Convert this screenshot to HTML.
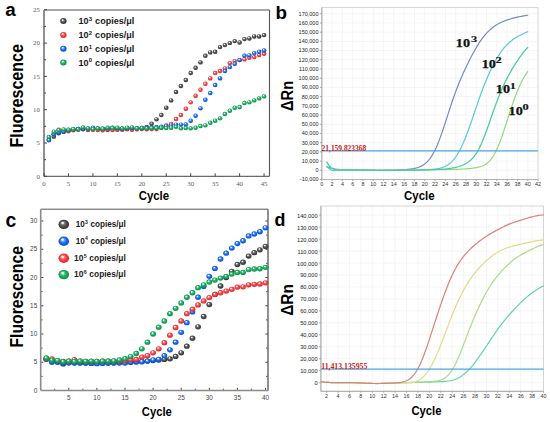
<!DOCTYPE html>
<html><head><meta charset="utf-8"><style>
html,body{margin:0;padding:0;background:#fff;width:550px;height:422px;overflow:hidden}
svg{display:block}
</style></head><body>
<svg width="550" height="422" viewBox="0 0 550 422">
<rect width="550" height="422" fill="#fff"/>
<defs>
<radialGradient id="gk" cx="0.5" cy="0.5" r="0.55" fx="0.36" fy="0.3"><stop offset="0" stop-color="#ffffff"/><stop offset="0.13" stop-color="#ffffff" stop-opacity="0.95"/><stop offset="0.32" stop-color="#7a7a7a"/><stop offset="0.62" stop-color="#4a4a4a"/><stop offset="1" stop-color="#2c2c2c"/></radialGradient>
<radialGradient id="gr" cx="0.5" cy="0.5" r="0.55" fx="0.36" fy="0.3"><stop offset="0" stop-color="#ffffff"/><stop offset="0.13" stop-color="#ffffff" stop-opacity="0.95"/><stop offset="0.32" stop-color="#ff7478"/><stop offset="0.62" stop-color="#f4383c"/><stop offset="1" stop-color="#d42228"/></radialGradient>
<radialGradient id="gb" cx="0.5" cy="0.5" r="0.55" fx="0.36" fy="0.3"><stop offset="0" stop-color="#ffffff"/><stop offset="0.13" stop-color="#ffffff" stop-opacity="0.95"/><stop offset="0.32" stop-color="#5a9cff"/><stop offset="0.62" stop-color="#0f62ea"/><stop offset="1" stop-color="#0a52d0"/></radialGradient>
<radialGradient id="gg" cx="0.5" cy="0.5" r="0.55" fx="0.36" fy="0.3"><stop offset="0" stop-color="#ffffff"/><stop offset="0.13" stop-color="#ffffff" stop-opacity="0.95"/><stop offset="0.32" stop-color="#52cc88"/><stop offset="0.62" stop-color="#12a658"/><stop offset="1" stop-color="#0a8846"/></radialGradient>
</defs>
<line x1="44" y1="10" x2="269.5" y2="10" stroke="#8a8a8a" stroke-width="1.5" />
<line x1="44" y1="10" x2="44" y2="176.3" stroke="#8a8a8a" stroke-width="1.9" />
<line x1="269.5" y1="10" x2="269.5" y2="176.3" stroke="#5a5a5a" stroke-width="1.15" />
<line x1="44" y1="176.3" x2="269.5" y2="176.3" stroke="#6a6a6a" stroke-width="1.3" />
<line x1="44" y1="176.3" x2="44" y2="173.3" stroke="#444" stroke-width="1" />
<line x1="68.45" y1="176.3" x2="68.45" y2="173.3" stroke="#444" stroke-width="1" />
<line x1="92.9" y1="176.3" x2="92.9" y2="173.3" stroke="#444" stroke-width="1" />
<line x1="117.35" y1="176.3" x2="117.35" y2="173.3" stroke="#444" stroke-width="1" />
<line x1="141.8" y1="176.3" x2="141.8" y2="173.3" stroke="#444" stroke-width="1" />
<line x1="166.25" y1="176.3" x2="166.25" y2="173.3" stroke="#444" stroke-width="1" />
<line x1="190.7" y1="176.3" x2="190.7" y2="173.3" stroke="#444" stroke-width="1" />
<line x1="215.15" y1="176.3" x2="215.15" y2="173.3" stroke="#444" stroke-width="1" />
<line x1="239.6" y1="176.3" x2="239.6" y2="173.3" stroke="#444" stroke-width="1" />
<line x1="264.05" y1="176.3" x2="264.05" y2="173.3" stroke="#444" stroke-width="1" />
<line x1="44" y1="176.3" x2="47" y2="176.3" stroke="#444" stroke-width="1" />
<line x1="44" y1="159.65" x2="46" y2="159.65" stroke="#444" stroke-width="1" />
<line x1="44" y1="143" x2="47" y2="143" stroke="#444" stroke-width="1" />
<line x1="44" y1="126.35" x2="46" y2="126.35" stroke="#444" stroke-width="1" />
<line x1="44" y1="109.7" x2="47" y2="109.7" stroke="#444" stroke-width="1" />
<line x1="44" y1="93.05" x2="46" y2="93.05" stroke="#444" stroke-width="1" />
<line x1="44" y1="76.4" x2="47" y2="76.4" stroke="#444" stroke-width="1" />
<line x1="44" y1="59.75" x2="46" y2="59.75" stroke="#444" stroke-width="1" />
<line x1="44" y1="43.1" x2="47" y2="43.1" stroke="#444" stroke-width="1" />
<line x1="44" y1="26.45" x2="46" y2="26.45" stroke="#444" stroke-width="1" />
<line x1="44" y1="9.8" x2="47" y2="9.8" stroke="#444" stroke-width="1" />
<text x="39.8" y="178.6" font-family="Liberation Serif" font-size="6.8" fill="#5a5a5a" text-anchor="end" >0</text>
<text x="39.8" y="145.3" font-family="Liberation Serif" font-size="6.8" fill="#5a5a5a" text-anchor="end" >5</text>
<text x="39.8" y="112" font-family="Liberation Serif" font-size="6.8" fill="#5a5a5a" text-anchor="end" >10</text>
<text x="39.8" y="78.7" font-family="Liberation Serif" font-size="6.8" fill="#5a5a5a" text-anchor="end" >15</text>
<text x="39.8" y="45.4" font-family="Liberation Serif" font-size="6.8" fill="#5a5a5a" text-anchor="end" >20</text>
<text x="39.8" y="12.1" font-family="Liberation Serif" font-size="6.8" fill="#5a5a5a" text-anchor="end" >25</text>
<text x="44" y="185.6" font-family="Liberation Serif" font-size="6.8" fill="#5a5a5a" text-anchor="middle" >0</text>
<text x="68.45" y="185.6" font-family="Liberation Serif" font-size="6.8" fill="#5a5a5a" text-anchor="middle" >5</text>
<text x="92.9" y="185.6" font-family="Liberation Serif" font-size="6.8" fill="#5a5a5a" text-anchor="middle" >10</text>
<text x="117.35" y="185.6" font-family="Liberation Serif" font-size="6.8" fill="#5a5a5a" text-anchor="middle" >15</text>
<text x="141.8" y="185.6" font-family="Liberation Serif" font-size="6.8" fill="#5a5a5a" text-anchor="middle" >20</text>
<text x="166.25" y="185.6" font-family="Liberation Serif" font-size="6.8" fill="#5a5a5a" text-anchor="middle" >25</text>
<text x="190.7" y="185.6" font-family="Liberation Serif" font-size="6.8" fill="#5a5a5a" text-anchor="middle" >30</text>
<text x="215.15" y="185.6" font-family="Liberation Serif" font-size="6.8" fill="#5a5a5a" text-anchor="middle" >35</text>
<text x="239.6" y="185.6" font-family="Liberation Serif" font-size="6.8" fill="#5a5a5a" text-anchor="middle" >40</text>
<text x="264.05" y="185.6" font-family="Liberation Serif" font-size="6.8" fill="#5a5a5a" text-anchor="middle" >45</text>
<ellipse cx="48.89" cy="139.67" rx="2.3" ry="2.2" fill="url(#gk)"/>
<ellipse cx="53.78" cy="136.67" rx="2.3" ry="2.2" fill="url(#gk)"/>
<ellipse cx="58.67" cy="133.34" rx="2.3" ry="2.2" fill="url(#gk)"/>
<ellipse cx="63.56" cy="131.68" rx="2.3" ry="2.2" fill="url(#gk)"/>
<ellipse cx="68.45" cy="130.68" rx="2.3" ry="2.2" fill="url(#gk)"/>
<ellipse cx="73.34" cy="129.68" rx="2.3" ry="2.2" fill="url(#gk)"/>
<ellipse cx="78.23" cy="129.01" rx="2.3" ry="2.2" fill="url(#gk)"/>
<ellipse cx="83.12" cy="128.68" rx="2.3" ry="2.2" fill="url(#gk)"/>
<ellipse cx="88.01" cy="129.01" rx="2.3" ry="2.2" fill="url(#gk)"/>
<ellipse cx="92.9" cy="129.35" rx="2.3" ry="2.2" fill="url(#gk)"/>
<ellipse cx="97.79" cy="129.01" rx="2.3" ry="2.2" fill="url(#gk)"/>
<ellipse cx="102.68" cy="129.35" rx="2.3" ry="2.2" fill="url(#gk)"/>
<ellipse cx="107.57" cy="129.68" rx="2.3" ry="2.2" fill="url(#gk)"/>
<ellipse cx="112.46" cy="129.01" rx="2.3" ry="2.2" fill="url(#gk)"/>
<ellipse cx="117.35" cy="129.35" rx="2.3" ry="2.2" fill="url(#gk)"/>
<ellipse cx="122.24" cy="129.01" rx="2.3" ry="2.2" fill="url(#gk)"/>
<ellipse cx="127.13" cy="128.68" rx="2.3" ry="2.2" fill="url(#gk)"/>
<ellipse cx="132.02" cy="129.01" rx="2.3" ry="2.2" fill="url(#gk)"/>
<ellipse cx="136.91" cy="128.35" rx="2.3" ry="2.2" fill="url(#gk)"/>
<ellipse cx="141.8" cy="128.02" rx="2.3" ry="2.2" fill="url(#gk)"/>
<ellipse cx="146.69" cy="127.02" rx="2.3" ry="2.2" fill="url(#gk)"/>
<ellipse cx="151.58" cy="123.69" rx="2.3" ry="2.2" fill="url(#gk)"/>
<ellipse cx="156.47" cy="119.36" rx="2.3" ry="2.2" fill="url(#gk)"/>
<ellipse cx="161.36" cy="115.03" rx="2.3" ry="2.2" fill="url(#gk)"/>
<ellipse cx="166.25" cy="107.7" rx="2.3" ry="2.2" fill="url(#gk)"/>
<ellipse cx="171.14" cy="100.38" rx="2.3" ry="2.2" fill="url(#gk)"/>
<ellipse cx="176.03" cy="91.98" rx="2.3" ry="2.2" fill="url(#gk)"/>
<ellipse cx="180.92" cy="85.99" rx="2.3" ry="2.2" fill="url(#gk)"/>
<ellipse cx="185.81" cy="79.93" rx="2.3" ry="2.2" fill="url(#gk)"/>
<ellipse cx="190.7" cy="73.07" rx="2.3" ry="2.2" fill="url(#gk)"/>
<ellipse cx="195.59" cy="67.74" rx="2.3" ry="2.2" fill="url(#gk)"/>
<ellipse cx="200.48" cy="62.41" rx="2.3" ry="2.2" fill="url(#gk)"/>
<ellipse cx="205.37" cy="55.75" rx="2.3" ry="2.2" fill="url(#gk)"/>
<ellipse cx="210.26" cy="52.42" rx="2.3" ry="2.2" fill="url(#gk)"/>
<ellipse cx="215.15" cy="51.76" rx="2.3" ry="2.2" fill="url(#gk)"/>
<ellipse cx="220.04" cy="47.1" rx="2.3" ry="2.2" fill="url(#gk)"/>
<ellipse cx="224.93" cy="45.1" rx="2.3" ry="2.2" fill="url(#gk)"/>
<ellipse cx="229.82" cy="43.1" rx="2.3" ry="2.2" fill="url(#gk)"/>
<ellipse cx="234.71" cy="41.1" rx="2.3" ry="2.2" fill="url(#gk)"/>
<ellipse cx="239.6" cy="42.43" rx="2.3" ry="2.2" fill="url(#gk)"/>
<ellipse cx="244.49" cy="39.1" rx="2.3" ry="2.2" fill="url(#gk)"/>
<ellipse cx="249.38" cy="38.44" rx="2.3" ry="2.2" fill="url(#gk)"/>
<ellipse cx="254.27" cy="36.44" rx="2.3" ry="2.2" fill="url(#gk)"/>
<ellipse cx="259.16" cy="36.44" rx="2.3" ry="2.2" fill="url(#gk)"/>
<ellipse cx="264.05" cy="35.11" rx="2.3" ry="2.2" fill="url(#gk)"/>
<ellipse cx="48.89" cy="139" rx="2.3" ry="2.2" fill="url(#gr)"/>
<ellipse cx="53.78" cy="134.34" rx="2.3" ry="2.2" fill="url(#gr)"/>
<ellipse cx="58.67" cy="129.68" rx="2.3" ry="2.2" fill="url(#gr)"/>
<ellipse cx="63.56" cy="130.35" rx="2.3" ry="2.2" fill="url(#gr)"/>
<ellipse cx="68.45" cy="131.35" rx="2.3" ry="2.2" fill="url(#gr)"/>
<ellipse cx="73.34" cy="130.35" rx="2.3" ry="2.2" fill="url(#gr)"/>
<ellipse cx="78.23" cy="129.68" rx="2.3" ry="2.2" fill="url(#gr)"/>
<ellipse cx="83.12" cy="129.35" rx="2.3" ry="2.2" fill="url(#gr)"/>
<ellipse cx="88.01" cy="130.01" rx="2.3" ry="2.2" fill="url(#gr)"/>
<ellipse cx="92.9" cy="129.68" rx="2.3" ry="2.2" fill="url(#gr)"/>
<ellipse cx="97.79" cy="130.01" rx="2.3" ry="2.2" fill="url(#gr)"/>
<ellipse cx="102.68" cy="130.35" rx="2.3" ry="2.2" fill="url(#gr)"/>
<ellipse cx="107.57" cy="129.68" rx="2.3" ry="2.2" fill="url(#gr)"/>
<ellipse cx="112.46" cy="130.01" rx="2.3" ry="2.2" fill="url(#gr)"/>
<ellipse cx="117.35" cy="129.68" rx="2.3" ry="2.2" fill="url(#gr)"/>
<ellipse cx="122.24" cy="129.68" rx="2.3" ry="2.2" fill="url(#gr)"/>
<ellipse cx="127.13" cy="129.35" rx="2.3" ry="2.2" fill="url(#gr)"/>
<ellipse cx="132.02" cy="129.68" rx="2.3" ry="2.2" fill="url(#gr)"/>
<ellipse cx="136.91" cy="129.35" rx="2.3" ry="2.2" fill="url(#gr)"/>
<ellipse cx="141.8" cy="129.01" rx="2.3" ry="2.2" fill="url(#gr)"/>
<ellipse cx="146.69" cy="129.35" rx="2.3" ry="2.2" fill="url(#gr)"/>
<ellipse cx="151.58" cy="129.01" rx="2.3" ry="2.2" fill="url(#gr)"/>
<ellipse cx="156.47" cy="129.01" rx="2.3" ry="2.2" fill="url(#gr)"/>
<ellipse cx="161.36" cy="127.68" rx="2.3" ry="2.2" fill="url(#gr)"/>
<ellipse cx="166.25" cy="125.35" rx="2.3" ry="2.2" fill="url(#gr)"/>
<ellipse cx="171.14" cy="123.89" rx="2.3" ry="2.2" fill="url(#gr)"/>
<ellipse cx="176.03" cy="119.02" rx="2.3" ry="2.2" fill="url(#gr)"/>
<ellipse cx="180.92" cy="115.03" rx="2.3" ry="2.2" fill="url(#gr)"/>
<ellipse cx="185.81" cy="108.7" rx="2.3" ry="2.2" fill="url(#gr)"/>
<ellipse cx="190.7" cy="102.37" rx="2.3" ry="2.2" fill="url(#gr)"/>
<ellipse cx="195.59" cy="95.71" rx="2.3" ry="2.2" fill="url(#gr)"/>
<ellipse cx="200.48" cy="89.72" rx="2.3" ry="2.2" fill="url(#gr)"/>
<ellipse cx="205.37" cy="83.73" rx="2.3" ry="2.2" fill="url(#gr)"/>
<ellipse cx="210.26" cy="78.4" rx="2.3" ry="2.2" fill="url(#gr)"/>
<ellipse cx="215.15" cy="73.07" rx="2.3" ry="2.2" fill="url(#gr)"/>
<ellipse cx="220.04" cy="71.07" rx="2.3" ry="2.2" fill="url(#gr)"/>
<ellipse cx="224.93" cy="68.41" rx="2.3" ry="2.2" fill="url(#gr)"/>
<ellipse cx="229.82" cy="63.08" rx="2.3" ry="2.2" fill="url(#gr)"/>
<ellipse cx="234.71" cy="61.08" rx="2.3" ry="2.2" fill="url(#gr)"/>
<ellipse cx="239.6" cy="60.08" rx="2.3" ry="2.2" fill="url(#gr)"/>
<ellipse cx="244.49" cy="59.42" rx="2.3" ry="2.2" fill="url(#gr)"/>
<ellipse cx="249.38" cy="57.75" rx="2.3" ry="2.2" fill="url(#gr)"/>
<ellipse cx="254.27" cy="57.09" rx="2.3" ry="2.2" fill="url(#gr)"/>
<ellipse cx="259.16" cy="55.09" rx="2.3" ry="2.2" fill="url(#gr)"/>
<ellipse cx="264.05" cy="53.76" rx="2.3" ry="2.2" fill="url(#gr)"/>
<ellipse cx="48.89" cy="140.34" rx="2.3" ry="2.2" fill="url(#gb)"/>
<ellipse cx="53.78" cy="134.34" rx="2.3" ry="2.2" fill="url(#gb)"/>
<ellipse cx="58.67" cy="132.34" rx="2.3" ry="2.2" fill="url(#gb)"/>
<ellipse cx="63.56" cy="131.68" rx="2.3" ry="2.2" fill="url(#gb)"/>
<ellipse cx="68.45" cy="130.01" rx="2.3" ry="2.2" fill="url(#gb)"/>
<ellipse cx="73.34" cy="129.35" rx="2.3" ry="2.2" fill="url(#gb)"/>
<ellipse cx="78.23" cy="129.01" rx="2.3" ry="2.2" fill="url(#gb)"/>
<ellipse cx="83.12" cy="129.01" rx="2.3" ry="2.2" fill="url(#gb)"/>
<ellipse cx="88.01" cy="128.68" rx="2.3" ry="2.2" fill="url(#gb)"/>
<ellipse cx="92.9" cy="127.68" rx="2.3" ry="2.2" fill="url(#gb)"/>
<ellipse cx="97.79" cy="128.35" rx="2.3" ry="2.2" fill="url(#gb)"/>
<ellipse cx="102.68" cy="128.68" rx="2.3" ry="2.2" fill="url(#gb)"/>
<ellipse cx="107.57" cy="128.35" rx="2.3" ry="2.2" fill="url(#gb)"/>
<ellipse cx="112.46" cy="127.68" rx="2.3" ry="2.2" fill="url(#gb)"/>
<ellipse cx="117.35" cy="128.35" rx="2.3" ry="2.2" fill="url(#gb)"/>
<ellipse cx="122.24" cy="128.68" rx="2.3" ry="2.2" fill="url(#gb)"/>
<ellipse cx="127.13" cy="128.35" rx="2.3" ry="2.2" fill="url(#gb)"/>
<ellipse cx="132.02" cy="128.02" rx="2.3" ry="2.2" fill="url(#gb)"/>
<ellipse cx="136.91" cy="128.35" rx="2.3" ry="2.2" fill="url(#gb)"/>
<ellipse cx="141.8" cy="128.35" rx="2.3" ry="2.2" fill="url(#gb)"/>
<ellipse cx="146.69" cy="128.02" rx="2.3" ry="2.2" fill="url(#gb)"/>
<ellipse cx="151.58" cy="127.35" rx="2.3" ry="2.2" fill="url(#gb)"/>
<ellipse cx="156.47" cy="127.02" rx="2.3" ry="2.2" fill="url(#gb)"/>
<ellipse cx="161.36" cy="126.68" rx="2.3" ry="2.2" fill="url(#gb)"/>
<ellipse cx="166.25" cy="126.35" rx="2.3" ry="2.2" fill="url(#gb)"/>
<ellipse cx="171.14" cy="125.68" rx="2.3" ry="2.2" fill="url(#gb)"/>
<ellipse cx="176.03" cy="124.62" rx="2.3" ry="2.2" fill="url(#gb)"/>
<ellipse cx="180.92" cy="124.62" rx="2.3" ry="2.2" fill="url(#gb)"/>
<ellipse cx="185.81" cy="124.35" rx="2.3" ry="2.2" fill="url(#gb)"/>
<ellipse cx="190.7" cy="120.69" rx="2.3" ry="2.2" fill="url(#gb)"/>
<ellipse cx="195.59" cy="115.69" rx="2.3" ry="2.2" fill="url(#gb)"/>
<ellipse cx="200.48" cy="108.37" rx="2.3" ry="2.2" fill="url(#gb)"/>
<ellipse cx="205.37" cy="99.71" rx="2.3" ry="2.2" fill="url(#gb)"/>
<ellipse cx="210.26" cy="93.05" rx="2.3" ry="2.2" fill="url(#gb)"/>
<ellipse cx="215.15" cy="85.06" rx="2.3" ry="2.2" fill="url(#gb)"/>
<ellipse cx="220.04" cy="78.4" rx="2.3" ry="2.2" fill="url(#gb)"/>
<ellipse cx="224.93" cy="71.07" rx="2.3" ry="2.2" fill="url(#gb)"/>
<ellipse cx="229.82" cy="67.08" rx="2.3" ry="2.2" fill="url(#gb)"/>
<ellipse cx="234.71" cy="63.75" rx="2.3" ry="2.2" fill="url(#gb)"/>
<ellipse cx="239.6" cy="60.08" rx="2.3" ry="2.2" fill="url(#gb)"/>
<ellipse cx="244.49" cy="55.75" rx="2.3" ry="2.2" fill="url(#gb)"/>
<ellipse cx="249.38" cy="55.42" rx="2.3" ry="2.2" fill="url(#gb)"/>
<ellipse cx="254.27" cy="53.09" rx="2.3" ry="2.2" fill="url(#gb)"/>
<ellipse cx="259.16" cy="51.76" rx="2.3" ry="2.2" fill="url(#gb)"/>
<ellipse cx="264.05" cy="50.43" rx="2.3" ry="2.2" fill="url(#gb)"/>
<ellipse cx="48.89" cy="137.01" rx="2.3" ry="2.2" fill="url(#gg)"/>
<ellipse cx="53.78" cy="131.68" rx="2.3" ry="2.2" fill="url(#gg)"/>
<ellipse cx="58.67" cy="130.35" rx="2.3" ry="2.2" fill="url(#gg)"/>
<ellipse cx="63.56" cy="129.41" rx="2.3" ry="2.2" fill="url(#gg)"/>
<ellipse cx="68.45" cy="129.68" rx="2.3" ry="2.2" fill="url(#gg)"/>
<ellipse cx="73.34" cy="129.01" rx="2.3" ry="2.2" fill="url(#gg)"/>
<ellipse cx="78.23" cy="129.35" rx="2.3" ry="2.2" fill="url(#gg)"/>
<ellipse cx="83.12" cy="127.35" rx="2.3" ry="2.2" fill="url(#gg)"/>
<ellipse cx="88.01" cy="128.35" rx="2.3" ry="2.2" fill="url(#gg)"/>
<ellipse cx="92.9" cy="129.01" rx="2.3" ry="2.2" fill="url(#gg)"/>
<ellipse cx="97.79" cy="128.35" rx="2.3" ry="2.2" fill="url(#gg)"/>
<ellipse cx="102.68" cy="128.68" rx="2.3" ry="2.2" fill="url(#gg)"/>
<ellipse cx="107.57" cy="127.68" rx="2.3" ry="2.2" fill="url(#gg)"/>
<ellipse cx="112.46" cy="128.02" rx="2.3" ry="2.2" fill="url(#gg)"/>
<ellipse cx="117.35" cy="127.68" rx="2.3" ry="2.2" fill="url(#gg)"/>
<ellipse cx="122.24" cy="128.35" rx="2.3" ry="2.2" fill="url(#gg)"/>
<ellipse cx="127.13" cy="127.68" rx="2.3" ry="2.2" fill="url(#gg)"/>
<ellipse cx="132.02" cy="127.35" rx="2.3" ry="2.2" fill="url(#gg)"/>
<ellipse cx="136.91" cy="128.35" rx="2.3" ry="2.2" fill="url(#gg)"/>
<ellipse cx="141.8" cy="128.02" rx="2.3" ry="2.2" fill="url(#gg)"/>
<ellipse cx="146.69" cy="128.35" rx="2.3" ry="2.2" fill="url(#gg)"/>
<ellipse cx="151.58" cy="128.02" rx="2.3" ry="2.2" fill="url(#gg)"/>
<ellipse cx="156.47" cy="128.02" rx="2.3" ry="2.2" fill="url(#gg)"/>
<ellipse cx="161.36" cy="127.68" rx="2.3" ry="2.2" fill="url(#gg)"/>
<ellipse cx="166.25" cy="128.02" rx="2.3" ry="2.2" fill="url(#gg)"/>
<ellipse cx="171.14" cy="127.68" rx="2.3" ry="2.2" fill="url(#gg)"/>
<ellipse cx="176.03" cy="126.82" rx="2.3" ry="2.2" fill="url(#gg)"/>
<ellipse cx="180.92" cy="128.35" rx="2.3" ry="2.2" fill="url(#gg)"/>
<ellipse cx="185.81" cy="128.02" rx="2.3" ry="2.2" fill="url(#gg)"/>
<ellipse cx="190.7" cy="128.35" rx="2.3" ry="2.2" fill="url(#gg)"/>
<ellipse cx="195.59" cy="127.68" rx="2.3" ry="2.2" fill="url(#gg)"/>
<ellipse cx="200.48" cy="126.02" rx="2.3" ry="2.2" fill="url(#gg)"/>
<ellipse cx="205.37" cy="125.35" rx="2.3" ry="2.2" fill="url(#gg)"/>
<ellipse cx="210.26" cy="122.69" rx="2.3" ry="2.2" fill="url(#gg)"/>
<ellipse cx="215.15" cy="120.69" rx="2.3" ry="2.2" fill="url(#gg)"/>
<ellipse cx="220.04" cy="118.36" rx="2.3" ry="2.2" fill="url(#gg)"/>
<ellipse cx="224.93" cy="114.03" rx="2.3" ry="2.2" fill="url(#gg)"/>
<ellipse cx="229.82" cy="110.7" rx="2.3" ry="2.2" fill="url(#gg)"/>
<ellipse cx="234.71" cy="107.7" rx="2.3" ry="2.2" fill="url(#gg)"/>
<ellipse cx="239.6" cy="107.04" rx="2.3" ry="2.2" fill="url(#gg)"/>
<ellipse cx="244.49" cy="103.04" rx="2.3" ry="2.2" fill="url(#gg)"/>
<ellipse cx="249.38" cy="102.37" rx="2.3" ry="2.2" fill="url(#gg)"/>
<ellipse cx="254.27" cy="100.38" rx="2.3" ry="2.2" fill="url(#gg)"/>
<ellipse cx="259.16" cy="98.38" rx="2.3" ry="2.2" fill="url(#gg)"/>
<ellipse cx="264.05" cy="96.38" rx="2.3" ry="2.2" fill="url(#gg)"/>
<ellipse cx="63.4" cy="21.1" rx="3.2" ry="3.0" fill="url(#gk)"/>
<text x="78.6" y="24.4" font-family="Liberation Sans" font-size="8.8" font-weight="bold" fill="#1a1a1a" textLength="55.7" lengthAdjust="spacingAndGlyphs">10<tspan font-size="5.8" dy="-3.4" dx="0.2">3</tspan><tspan dy="3.4" dx="0.4"> copies/μl</tspan></text>
<ellipse cx="63.4" cy="34.9" rx="3.2" ry="3.0" fill="url(#gr)"/>
<text x="78.6" y="38.2" font-family="Liberation Sans" font-size="8.8" font-weight="bold" fill="#1a1a1a" textLength="55.7" lengthAdjust="spacingAndGlyphs">10<tspan font-size="5.8" dy="-3.4" dx="0.2">2</tspan><tspan dy="3.4" dx="0.4"> copies/μl</tspan></text>
<ellipse cx="63.4" cy="48.7" rx="3.2" ry="3.0" fill="url(#gb)"/>
<text x="78.6" y="52" font-family="Liberation Sans" font-size="8.8" font-weight="bold" fill="#1a1a1a" textLength="55.7" lengthAdjust="spacingAndGlyphs">10<tspan font-size="5.8" dy="-3.4" dx="0.2">1</tspan><tspan dy="3.4" dx="0.4"> copies/μl</tspan></text>
<ellipse cx="63.4" cy="62.5" rx="3.2" ry="3.0" fill="url(#gg)"/>
<text x="78.6" y="65.8" font-family="Liberation Sans" font-size="8.8" font-weight="bold" fill="#1a1a1a" textLength="55.7" lengthAdjust="spacingAndGlyphs">10<tspan font-size="5.8" dy="-3.4" dx="0.2">0</tspan><tspan dy="3.4" dx="0.4"> copies/μl</tspan></text>
<text x="5.2" y="15.9" font-family="Liberation Sans" font-size="18.8" fill="#000" font-weight="bold" >a</text>
<text x="0" y="0" font-family="Liberation Sans" font-size="18.2" font-weight="bold" fill="#000" textLength="103.5" lengthAdjust="spacingAndGlyphs" transform="translate(23.4,147.6) rotate(-90)">Fluorescence</text>
<text x="138.7" y="199.8" font-family="Liberation Sans" font-size="12.2" fill="#000" font-weight="bold" textLength="30.4" lengthAdjust="spacingAndGlyphs" >Cycle</text>
<line x1="40.7" y1="209.2" x2="268" y2="209.2" stroke="#555" stroke-width="1.0" />
<line x1="268" y1="209.2" x2="268" y2="390.5" stroke="#555" stroke-width="1.3" />
<line x1="40.7" y1="209.2" x2="40.7" y2="390.5" stroke="#8a8a8a" stroke-width="1.6" />
<line x1="40.7" y1="390.5" x2="268" y2="390.5" stroke="#8a8a8a" stroke-width="1.6" />
<line x1="41.5" y1="376.38" x2="42.5" y2="376.38" stroke="#222" stroke-width="0.9" />
<line x1="267.4" y1="376.38" x2="266.2" y2="376.38" stroke="#222" stroke-width="0.9" />
<line x1="41.5" y1="362.25" x2="43.3" y2="362.25" stroke="#222" stroke-width="0.9" />
<line x1="267.4" y1="362.25" x2="265.4" y2="362.25" stroke="#222" stroke-width="0.9" />
<line x1="41.5" y1="348.12" x2="42.5" y2="348.12" stroke="#222" stroke-width="0.9" />
<line x1="267.4" y1="348.12" x2="266.2" y2="348.12" stroke="#222" stroke-width="0.9" />
<line x1="41.5" y1="334" x2="43.3" y2="334" stroke="#222" stroke-width="0.9" />
<line x1="267.4" y1="334" x2="265.4" y2="334" stroke="#222" stroke-width="0.9" />
<line x1="41.5" y1="319.88" x2="42.5" y2="319.88" stroke="#222" stroke-width="0.9" />
<line x1="267.4" y1="319.88" x2="266.2" y2="319.88" stroke="#222" stroke-width="0.9" />
<line x1="41.5" y1="305.75" x2="43.3" y2="305.75" stroke="#222" stroke-width="0.9" />
<line x1="267.4" y1="305.75" x2="265.4" y2="305.75" stroke="#222" stroke-width="0.9" />
<line x1="41.5" y1="291.62" x2="42.5" y2="291.62" stroke="#222" stroke-width="0.9" />
<line x1="267.4" y1="291.62" x2="266.2" y2="291.62" stroke="#222" stroke-width="0.9" />
<line x1="41.5" y1="277.5" x2="43.3" y2="277.5" stroke="#222" stroke-width="0.9" />
<line x1="267.4" y1="277.5" x2="265.4" y2="277.5" stroke="#222" stroke-width="0.9" />
<line x1="41.5" y1="263.38" x2="42.5" y2="263.38" stroke="#222" stroke-width="0.9" />
<line x1="267.4" y1="263.38" x2="266.2" y2="263.38" stroke="#222" stroke-width="0.9" />
<line x1="41.5" y1="249.25" x2="43.3" y2="249.25" stroke="#222" stroke-width="0.9" />
<line x1="267.4" y1="249.25" x2="265.4" y2="249.25" stroke="#222" stroke-width="0.9" />
<line x1="41.5" y1="235.12" x2="42.5" y2="235.12" stroke="#222" stroke-width="0.9" />
<line x1="267.4" y1="235.12" x2="266.2" y2="235.12" stroke="#222" stroke-width="0.9" />
<line x1="41.5" y1="221" x2="43.3" y2="221" stroke="#222" stroke-width="0.9" />
<line x1="267.4" y1="221" x2="265.4" y2="221" stroke="#222" stroke-width="0.9" />
<line x1="54.75" y1="389.7" x2="54.75" y2="388.7" stroke="#222" stroke-width="0.9" />
<line x1="68.8" y1="389.7" x2="68.8" y2="387.9" stroke="#222" stroke-width="0.9" />
<line x1="82.85" y1="389.7" x2="82.85" y2="388.7" stroke="#222" stroke-width="0.9" />
<line x1="96.9" y1="389.7" x2="96.9" y2="387.9" stroke="#222" stroke-width="0.9" />
<line x1="110.95" y1="389.7" x2="110.95" y2="388.7" stroke="#222" stroke-width="0.9" />
<line x1="125" y1="389.7" x2="125" y2="387.9" stroke="#222" stroke-width="0.9" />
<line x1="139.05" y1="389.7" x2="139.05" y2="388.7" stroke="#222" stroke-width="0.9" />
<line x1="153.1" y1="389.7" x2="153.1" y2="387.9" stroke="#222" stroke-width="0.9" />
<line x1="167.15" y1="389.7" x2="167.15" y2="388.7" stroke="#222" stroke-width="0.9" />
<line x1="181.2" y1="389.7" x2="181.2" y2="387.9" stroke="#222" stroke-width="0.9" />
<line x1="195.25" y1="389.7" x2="195.25" y2="388.7" stroke="#222" stroke-width="0.9" />
<line x1="209.3" y1="389.7" x2="209.3" y2="387.9" stroke="#222" stroke-width="0.9" />
<line x1="223.35" y1="389.7" x2="223.35" y2="388.7" stroke="#222" stroke-width="0.9" />
<line x1="237.4" y1="389.7" x2="237.4" y2="387.9" stroke="#222" stroke-width="0.9" />
<line x1="251.45" y1="389.7" x2="251.45" y2="388.7" stroke="#222" stroke-width="0.9" />
<line x1="265.5" y1="389.7" x2="265.5" y2="387.9" stroke="#222" stroke-width="0.9" />
<text x="37.2" y="392.7" font-family="Liberation Sans" font-size="6.4" fill="#444" text-anchor="end" >0</text>
<text x="37.2" y="364.45" font-family="Liberation Sans" font-size="6.4" fill="#444" text-anchor="end" >5</text>
<text x="37.2" y="336.2" font-family="Liberation Sans" font-size="6.4" fill="#444" text-anchor="end" >10</text>
<text x="37.2" y="307.95" font-family="Liberation Sans" font-size="6.4" fill="#444" text-anchor="end" >15</text>
<text x="37.2" y="279.7" font-family="Liberation Sans" font-size="6.4" fill="#444" text-anchor="end" >20</text>
<text x="37.2" y="251.45" font-family="Liberation Sans" font-size="6.4" fill="#444" text-anchor="end" >25</text>
<text x="37.2" y="223.2" font-family="Liberation Sans" font-size="6.4" fill="#444" text-anchor="end" >30</text>
<text x="68.8" y="399.8" font-family="Liberation Sans" font-size="6.4" fill="#444" text-anchor="middle" >5</text>
<text x="96.9" y="399.8" font-family="Liberation Sans" font-size="6.4" fill="#444" text-anchor="middle" >10</text>
<text x="125" y="399.8" font-family="Liberation Sans" font-size="6.4" fill="#444" text-anchor="middle" >15</text>
<text x="153.1" y="399.8" font-family="Liberation Sans" font-size="6.4" fill="#444" text-anchor="middle" >20</text>
<text x="181.2" y="399.8" font-family="Liberation Sans" font-size="6.4" fill="#444" text-anchor="middle" >25</text>
<text x="209.3" y="399.8" font-family="Liberation Sans" font-size="6.4" fill="#444" text-anchor="middle" >30</text>
<text x="237.4" y="399.8" font-family="Liberation Sans" font-size="6.4" fill="#444" text-anchor="middle" >35</text>
<text x="265.5" y="399.8" font-family="Liberation Sans" font-size="6.4" fill="#444" text-anchor="middle" >40</text>
<ellipse cx="46.32" cy="358.86" rx="2.9" ry="2.65" fill="url(#gk)"/>
<ellipse cx="51.94" cy="360.56" rx="2.9" ry="2.65" fill="url(#gk)"/>
<ellipse cx="57.56" cy="361.69" rx="2.9" ry="2.65" fill="url(#gk)"/>
<ellipse cx="63.18" cy="363.94" rx="2.9" ry="2.65" fill="url(#gk)"/>
<ellipse cx="68.8" cy="362.81" rx="2.9" ry="2.65" fill="url(#gk)"/>
<ellipse cx="74.42" cy="362.81" rx="2.9" ry="2.65" fill="url(#gk)"/>
<ellipse cx="80.04" cy="363.1" rx="2.9" ry="2.65" fill="url(#gk)"/>
<ellipse cx="85.66" cy="363.1" rx="2.9" ry="2.65" fill="url(#gk)"/>
<ellipse cx="91.28" cy="363.38" rx="2.9" ry="2.65" fill="url(#gk)"/>
<ellipse cx="96.9" cy="363.38" rx="2.9" ry="2.65" fill="url(#gk)"/>
<ellipse cx="102.52" cy="363.1" rx="2.9" ry="2.65" fill="url(#gk)"/>
<ellipse cx="108.14" cy="363.1" rx="2.9" ry="2.65" fill="url(#gk)"/>
<ellipse cx="113.76" cy="362.81" rx="2.9" ry="2.65" fill="url(#gk)"/>
<ellipse cx="119.38" cy="362.81" rx="2.9" ry="2.65" fill="url(#gk)"/>
<ellipse cx="125" cy="362.53" rx="2.9" ry="2.65" fill="url(#gk)"/>
<ellipse cx="130.62" cy="362.25" rx="2.9" ry="2.65" fill="url(#gk)"/>
<ellipse cx="136.24" cy="361.97" rx="2.9" ry="2.65" fill="url(#gk)"/>
<ellipse cx="141.86" cy="361.69" rx="2.9" ry="2.65" fill="url(#gk)"/>
<ellipse cx="147.48" cy="361.12" rx="2.9" ry="2.65" fill="url(#gk)"/>
<ellipse cx="153.1" cy="360.56" rx="2.9" ry="2.65" fill="url(#gk)"/>
<ellipse cx="158.72" cy="359.99" rx="2.9" ry="2.65" fill="url(#gk)"/>
<ellipse cx="164.34" cy="359.43" rx="2.9" ry="2.65" fill="url(#gk)"/>
<ellipse cx="169.96" cy="358.86" rx="2.9" ry="2.65" fill="url(#gk)"/>
<ellipse cx="175.58" cy="356.43" rx="2.9" ry="2.65" fill="url(#gk)"/>
<ellipse cx="181.2" cy="352.81" rx="2.9" ry="2.65" fill="url(#gk)"/>
<ellipse cx="186.82" cy="346.2" rx="2.9" ry="2.65" fill="url(#gk)"/>
<ellipse cx="192.44" cy="338.18" rx="2.9" ry="2.65" fill="url(#gk)"/>
<ellipse cx="198.06" cy="326.82" rx="2.9" ry="2.65" fill="url(#gk)"/>
<ellipse cx="203.68" cy="316.49" rx="2.9" ry="2.65" fill="url(#gk)"/>
<ellipse cx="209.3" cy="304.62" rx="2.9" ry="2.65" fill="url(#gk)"/>
<ellipse cx="214.92" cy="294.45" rx="2.9" ry="2.65" fill="url(#gk)"/>
<ellipse cx="220.54" cy="285.98" rx="2.9" ry="2.65" fill="url(#gk)"/>
<ellipse cx="226.16" cy="277.5" rx="2.9" ry="2.65" fill="url(#gk)"/>
<ellipse cx="231.78" cy="271.28" rx="2.9" ry="2.65" fill="url(#gk)"/>
<ellipse cx="237.4" cy="264.5" rx="2.9" ry="2.65" fill="url(#gk)"/>
<ellipse cx="243.02" cy="262.25" rx="2.9" ry="2.65" fill="url(#gk)"/>
<ellipse cx="248.64" cy="256.03" rx="2.9" ry="2.65" fill="url(#gk)"/>
<ellipse cx="254.26" cy="252.64" rx="2.9" ry="2.65" fill="url(#gk)"/>
<ellipse cx="259.88" cy="249.81" rx="2.9" ry="2.65" fill="url(#gk)"/>
<ellipse cx="265.5" cy="246.42" rx="2.9" ry="2.65" fill="url(#gk)"/>
<ellipse cx="46.32" cy="359.43" rx="2.9" ry="2.65" fill="url(#gb)"/>
<ellipse cx="51.94" cy="362.25" rx="2.9" ry="2.65" fill="url(#gb)"/>
<ellipse cx="57.56" cy="362.25" rx="2.9" ry="2.65" fill="url(#gb)"/>
<ellipse cx="63.18" cy="363.1" rx="2.9" ry="2.65" fill="url(#gb)"/>
<ellipse cx="68.8" cy="362.81" rx="2.9" ry="2.65" fill="url(#gb)"/>
<ellipse cx="74.42" cy="363.1" rx="2.9" ry="2.65" fill="url(#gb)"/>
<ellipse cx="80.04" cy="362.81" rx="2.9" ry="2.65" fill="url(#gb)"/>
<ellipse cx="85.66" cy="363.1" rx="2.9" ry="2.65" fill="url(#gb)"/>
<ellipse cx="91.28" cy="363.38" rx="2.9" ry="2.65" fill="url(#gb)"/>
<ellipse cx="96.9" cy="363.66" rx="2.9" ry="2.65" fill="url(#gb)"/>
<ellipse cx="102.52" cy="363.38" rx="2.9" ry="2.65" fill="url(#gb)"/>
<ellipse cx="108.14" cy="363.1" rx="2.9" ry="2.65" fill="url(#gb)"/>
<ellipse cx="113.76" cy="363.1" rx="2.9" ry="2.65" fill="url(#gb)"/>
<ellipse cx="119.38" cy="362.81" rx="2.9" ry="2.65" fill="url(#gb)"/>
<ellipse cx="125" cy="362.98" rx="2.9" ry="2.65" fill="url(#gb)"/>
<ellipse cx="130.62" cy="362.25" rx="2.9" ry="2.65" fill="url(#gb)"/>
<ellipse cx="136.24" cy="361.69" rx="2.9" ry="2.65" fill="url(#gb)"/>
<ellipse cx="141.86" cy="361.69" rx="2.9" ry="2.65" fill="url(#gb)"/>
<ellipse cx="147.48" cy="361.12" rx="2.9" ry="2.65" fill="url(#gb)"/>
<ellipse cx="153.1" cy="359.99" rx="2.9" ry="2.65" fill="url(#gb)"/>
<ellipse cx="158.72" cy="359.43" rx="2.9" ry="2.65" fill="url(#gb)"/>
<ellipse cx="164.34" cy="355.75" rx="2.9" ry="2.65" fill="url(#gb)"/>
<ellipse cx="169.96" cy="349.82" rx="2.9" ry="2.65" fill="url(#gb)"/>
<ellipse cx="175.58" cy="342.19" rx="2.9" ry="2.65" fill="url(#gb)"/>
<ellipse cx="181.2" cy="332.31" rx="2.9" ry="2.65" fill="url(#gb)"/>
<ellipse cx="186.82" cy="322.7" rx="2.9" ry="2.65" fill="url(#gb)"/>
<ellipse cx="192.44" cy="311.96" rx="2.9" ry="2.65" fill="url(#gb)"/>
<ellipse cx="198.06" cy="297.27" rx="2.9" ry="2.65" fill="url(#gb)"/>
<ellipse cx="203.68" cy="286.54" rx="2.9" ry="2.65" fill="url(#gb)"/>
<ellipse cx="209.3" cy="276.37" rx="2.9" ry="2.65" fill="url(#gb)"/>
<ellipse cx="214.92" cy="268.46" rx="2.9" ry="2.65" fill="url(#gb)"/>
<ellipse cx="220.54" cy="259.02" rx="2.9" ry="2.65" fill="url(#gb)"/>
<ellipse cx="226.16" cy="253.2" rx="2.9" ry="2.65" fill="url(#gb)"/>
<ellipse cx="231.78" cy="248.12" rx="2.9" ry="2.65" fill="url(#gb)"/>
<ellipse cx="237.4" cy="243.6" rx="2.9" ry="2.65" fill="url(#gb)"/>
<ellipse cx="243.02" cy="240.77" rx="2.9" ry="2.65" fill="url(#gb)"/>
<ellipse cx="248.64" cy="235.97" rx="2.9" ry="2.65" fill="url(#gb)"/>
<ellipse cx="254.26" cy="234" rx="2.9" ry="2.65" fill="url(#gb)"/>
<ellipse cx="259.88" cy="231.73" rx="2.9" ry="2.65" fill="url(#gb)"/>
<ellipse cx="265.5" cy="227.78" rx="2.9" ry="2.65" fill="url(#gb)"/>
<ellipse cx="46.32" cy="358.86" rx="2.9" ry="2.65" fill="url(#gr)"/>
<ellipse cx="51.94" cy="358.86" rx="2.9" ry="2.65" fill="url(#gr)"/>
<ellipse cx="57.56" cy="360.56" rx="2.9" ry="2.65" fill="url(#gr)"/>
<ellipse cx="63.18" cy="361.4" rx="2.9" ry="2.65" fill="url(#gr)"/>
<ellipse cx="68.8" cy="361.12" rx="2.9" ry="2.65" fill="url(#gr)"/>
<ellipse cx="74.42" cy="359.71" rx="2.9" ry="2.65" fill="url(#gr)"/>
<ellipse cx="80.04" cy="361.12" rx="2.9" ry="2.65" fill="url(#gr)"/>
<ellipse cx="85.66" cy="361.4" rx="2.9" ry="2.65" fill="url(#gr)"/>
<ellipse cx="91.28" cy="361.4" rx="2.9" ry="2.65" fill="url(#gr)"/>
<ellipse cx="96.9" cy="361.4" rx="2.9" ry="2.65" fill="url(#gr)"/>
<ellipse cx="102.52" cy="361.12" rx="2.9" ry="2.65" fill="url(#gr)"/>
<ellipse cx="108.14" cy="361.12" rx="2.9" ry="2.65" fill="url(#gr)"/>
<ellipse cx="113.76" cy="361.12" rx="2.9" ry="2.65" fill="url(#gr)"/>
<ellipse cx="119.38" cy="360.84" rx="2.9" ry="2.65" fill="url(#gr)"/>
<ellipse cx="125" cy="360.56" rx="2.9" ry="2.65" fill="url(#gr)"/>
<ellipse cx="130.62" cy="359.71" rx="2.9" ry="2.65" fill="url(#gr)"/>
<ellipse cx="136.24" cy="359.43" rx="2.9" ry="2.65" fill="url(#gr)"/>
<ellipse cx="141.86" cy="357.17" rx="2.9" ry="2.65" fill="url(#gr)"/>
<ellipse cx="147.48" cy="355.75" rx="2.9" ry="2.65" fill="url(#gr)"/>
<ellipse cx="153.1" cy="352.81" rx="2.9" ry="2.65" fill="url(#gr)"/>
<ellipse cx="158.72" cy="348.8" rx="2.9" ry="2.65" fill="url(#gr)"/>
<ellipse cx="164.34" cy="342.7" rx="2.9" ry="2.65" fill="url(#gr)"/>
<ellipse cx="169.96" cy="335.13" rx="2.9" ry="2.65" fill="url(#gr)"/>
<ellipse cx="175.58" cy="327.5" rx="2.9" ry="2.65" fill="url(#gr)"/>
<ellipse cx="181.2" cy="321" rx="2.9" ry="2.65" fill="url(#gr)"/>
<ellipse cx="186.82" cy="313.66" rx="2.9" ry="2.65" fill="url(#gr)"/>
<ellipse cx="192.44" cy="309.14" rx="2.9" ry="2.65" fill="url(#gr)"/>
<ellipse cx="198.06" cy="304.9" rx="2.9" ry="2.65" fill="url(#gr)"/>
<ellipse cx="203.68" cy="300.95" rx="2.9" ry="2.65" fill="url(#gr)"/>
<ellipse cx="209.3" cy="297.56" rx="2.9" ry="2.65" fill="url(#gr)"/>
<ellipse cx="214.92" cy="294.45" rx="2.9" ry="2.65" fill="url(#gr)"/>
<ellipse cx="220.54" cy="292.75" rx="2.9" ry="2.65" fill="url(#gr)"/>
<ellipse cx="226.16" cy="291.06" rx="2.9" ry="2.65" fill="url(#gr)"/>
<ellipse cx="231.78" cy="289.37" rx="2.9" ry="2.65" fill="url(#gr)"/>
<ellipse cx="237.4" cy="287.11" rx="2.9" ry="2.65" fill="url(#gr)"/>
<ellipse cx="243.02" cy="286.82" rx="2.9" ry="2.65" fill="url(#gr)"/>
<ellipse cx="248.64" cy="284.85" rx="2.9" ry="2.65" fill="url(#gr)"/>
<ellipse cx="254.26" cy="284.28" rx="2.9" ry="2.65" fill="url(#gr)"/>
<ellipse cx="259.88" cy="284" rx="2.9" ry="2.65" fill="url(#gr)"/>
<ellipse cx="265.5" cy="282.87" rx="2.9" ry="2.65" fill="url(#gr)"/>
<ellipse cx="46.32" cy="358.01" rx="2.9" ry="2.65" fill="url(#gg)"/>
<ellipse cx="51.94" cy="360.27" rx="2.9" ry="2.65" fill="url(#gg)"/>
<ellipse cx="57.56" cy="360.56" rx="2.9" ry="2.65" fill="url(#gg)"/>
<ellipse cx="63.18" cy="361.69" rx="2.9" ry="2.65" fill="url(#gg)"/>
<ellipse cx="68.8" cy="361.12" rx="2.9" ry="2.65" fill="url(#gg)"/>
<ellipse cx="74.42" cy="361.52" rx="2.9" ry="2.65" fill="url(#gg)"/>
<ellipse cx="80.04" cy="361.12" rx="2.9" ry="2.65" fill="url(#gg)"/>
<ellipse cx="85.66" cy="361.4" rx="2.9" ry="2.65" fill="url(#gg)"/>
<ellipse cx="91.28" cy="361.12" rx="2.9" ry="2.65" fill="url(#gg)"/>
<ellipse cx="96.9" cy="361.4" rx="2.9" ry="2.65" fill="url(#gg)"/>
<ellipse cx="102.52" cy="361.12" rx="2.9" ry="2.65" fill="url(#gg)"/>
<ellipse cx="108.14" cy="361.12" rx="2.9" ry="2.65" fill="url(#gg)"/>
<ellipse cx="113.76" cy="360.84" rx="2.9" ry="2.65" fill="url(#gg)"/>
<ellipse cx="119.38" cy="359.99" rx="2.9" ry="2.65" fill="url(#gg)"/>
<ellipse cx="125" cy="358.69" rx="2.9" ry="2.65" fill="url(#gg)"/>
<ellipse cx="130.62" cy="356.6" rx="2.9" ry="2.65" fill="url(#gg)"/>
<ellipse cx="136.24" cy="353.49" rx="2.9" ry="2.65" fill="url(#gg)"/>
<ellipse cx="141.86" cy="348.8" rx="2.9" ry="2.65" fill="url(#gg)"/>
<ellipse cx="147.48" cy="342.19" rx="2.9" ry="2.65" fill="url(#gg)"/>
<ellipse cx="153.1" cy="334" rx="2.9" ry="2.65" fill="url(#gg)"/>
<ellipse cx="158.72" cy="327.22" rx="2.9" ry="2.65" fill="url(#gg)"/>
<ellipse cx="164.34" cy="321" rx="2.9" ry="2.65" fill="url(#gg)"/>
<ellipse cx="169.96" cy="313.66" rx="2.9" ry="2.65" fill="url(#gg)"/>
<ellipse cx="175.58" cy="308.29" rx="2.9" ry="2.65" fill="url(#gg)"/>
<ellipse cx="181.2" cy="302.93" rx="2.9" ry="2.65" fill="url(#gg)"/>
<ellipse cx="186.82" cy="297.27" rx="2.9" ry="2.65" fill="url(#gg)"/>
<ellipse cx="192.44" cy="292.75" rx="2.9" ry="2.65" fill="url(#gg)"/>
<ellipse cx="198.06" cy="287.67" rx="2.9" ry="2.65" fill="url(#gg)"/>
<ellipse cx="203.68" cy="284.85" rx="2.9" ry="2.65" fill="url(#gg)"/>
<ellipse cx="209.3" cy="282.02" rx="2.9" ry="2.65" fill="url(#gg)"/>
<ellipse cx="214.92" cy="280.04" rx="2.9" ry="2.65" fill="url(#gg)"/>
<ellipse cx="220.54" cy="278.06" rx="2.9" ry="2.65" fill="url(#gg)"/>
<ellipse cx="226.16" cy="276.37" rx="2.9" ry="2.65" fill="url(#gg)"/>
<ellipse cx="231.78" cy="274.11" rx="2.9" ry="2.65" fill="url(#gg)"/>
<ellipse cx="237.4" cy="272.42" rx="2.9" ry="2.65" fill="url(#gg)"/>
<ellipse cx="243.02" cy="272.42" rx="2.9" ry="2.65" fill="url(#gg)"/>
<ellipse cx="248.64" cy="269.59" rx="2.9" ry="2.65" fill="url(#gg)"/>
<ellipse cx="254.26" cy="269.02" rx="2.9" ry="2.65" fill="url(#gg)"/>
<ellipse cx="259.88" cy="268.74" rx="2.9" ry="2.65" fill="url(#gg)"/>
<ellipse cx="265.5" cy="267.33" rx="2.9" ry="2.65" fill="url(#gg)"/>
<ellipse cx="63.8" cy="224.4" rx="5.3" ry="4.7" fill="url(#gk)"/>
<text x="75.7" y="227" font-family="Liberation Sans" font-size="8.9" font-weight="bold" fill="#1a1a1a" textLength="50.099999999999994" lengthAdjust="spacingAndGlyphs">10<tspan font-size="5.6" dy="-3.4" dx="0.2">3</tspan><tspan dy="3.4" dx="0.4"> copies/μl</tspan></text>
<ellipse cx="63.8" cy="241.2" rx="5.3" ry="4.7" fill="url(#gb)"/>
<text x="75.7" y="243.8" font-family="Liberation Sans" font-size="8.9" font-weight="bold" fill="#1a1a1a" textLength="50.099999999999994" lengthAdjust="spacingAndGlyphs">10<tspan font-size="5.6" dy="-3.4" dx="0.2">4</tspan><tspan dy="3.4" dx="0.4"> copies/μl</tspan></text>
<ellipse cx="63.8" cy="258.3" rx="5.3" ry="4.7" fill="url(#gr)"/>
<text x="74.1" y="260.9" font-family="Liberation Sans" font-size="8.9" font-weight="bold" fill="#1a1a1a" textLength="51.7" lengthAdjust="spacingAndGlyphs">10<tspan font-size="5.6" dy="-3.4" dx="0.2">5</tspan><tspan dy="3.4" dx="0.4"> copies/μl</tspan></text>
<ellipse cx="63.8" cy="274.6" rx="5.3" ry="4.7" fill="url(#gg)"/>
<text x="74.1" y="277.2" font-family="Liberation Sans" font-size="8.9" font-weight="bold" fill="#1a1a1a" textLength="51.7" lengthAdjust="spacingAndGlyphs">10<tspan font-size="5.6" dy="-3.4" dx="0.2">6</tspan><tspan dy="3.4" dx="0.4"> copies/μl</tspan></text>
<text x="5.6" y="226.8" font-family="Liberation Sans" font-size="19.3" fill="#000" font-weight="bold" >c</text>
<text x="0" y="0" font-family="Liberation Sans" font-size="18.6" font-weight="bold" fill="#000" textLength="101.6" lengthAdjust="spacingAndGlyphs" transform="translate(22.8,347.6) rotate(-90)">Fluorescence</text>
<text x="141.8" y="415.6" font-family="Liberation Sans" font-size="12.8" fill="#000" font-weight="bold" textLength="30.0" lengthAdjust="spacingAndGlyphs" >Cycle</text>
<line x1="332.1" y1="7.6" x2="332.1" y2="179.51" stroke="#f2f2f2" stroke-width="0.8" />
<line x1="342.39" y1="7.6" x2="342.39" y2="179.51" stroke="#f2f2f2" stroke-width="0.8" />
<line x1="352.69" y1="7.6" x2="352.69" y2="179.51" stroke="#f2f2f2" stroke-width="0.8" />
<line x1="362.98" y1="7.6" x2="362.98" y2="179.51" stroke="#f2f2f2" stroke-width="0.8" />
<line x1="373.28" y1="7.6" x2="373.28" y2="179.51" stroke="#f2f2f2" stroke-width="0.8" />
<line x1="383.58" y1="7.6" x2="383.58" y2="179.51" stroke="#f2f2f2" stroke-width="0.8" />
<line x1="393.87" y1="7.6" x2="393.87" y2="179.51" stroke="#f2f2f2" stroke-width="0.8" />
<line x1="404.17" y1="7.6" x2="404.17" y2="179.51" stroke="#f2f2f2" stroke-width="0.8" />
<line x1="414.46" y1="7.6" x2="414.46" y2="179.51" stroke="#f2f2f2" stroke-width="0.8" />
<line x1="424.76" y1="7.6" x2="424.76" y2="179.51" stroke="#f2f2f2" stroke-width="0.8" />
<line x1="435.06" y1="7.6" x2="435.06" y2="179.51" stroke="#f2f2f2" stroke-width="0.8" />
<line x1="445.35" y1="7.6" x2="445.35" y2="179.51" stroke="#f2f2f2" stroke-width="0.8" />
<line x1="455.65" y1="7.6" x2="455.65" y2="179.51" stroke="#f2f2f2" stroke-width="0.8" />
<line x1="465.94" y1="7.6" x2="465.94" y2="179.51" stroke="#f2f2f2" stroke-width="0.8" />
<line x1="476.24" y1="7.6" x2="476.24" y2="179.51" stroke="#f2f2f2" stroke-width="0.8" />
<line x1="486.54" y1="7.6" x2="486.54" y2="179.51" stroke="#f2f2f2" stroke-width="0.8" />
<line x1="496.83" y1="7.6" x2="496.83" y2="179.51" stroke="#f2f2f2" stroke-width="0.8" />
<line x1="507.13" y1="7.6" x2="507.13" y2="179.51" stroke="#f2f2f2" stroke-width="0.8" />
<line x1="517.42" y1="7.6" x2="517.42" y2="179.51" stroke="#f2f2f2" stroke-width="0.8" />
<line x1="527.72" y1="7.6" x2="527.72" y2="179.51" stroke="#f2f2f2" stroke-width="0.8" />
<line x1="321.8" y1="170.3" x2="538.02" y2="170.3" stroke="#f2f2f2" stroke-width="0.8" />
<line x1="321.8" y1="161.09" x2="538.02" y2="161.09" stroke="#f2f2f2" stroke-width="0.8" />
<line x1="321.8" y1="151.88" x2="538.02" y2="151.88" stroke="#f2f2f2" stroke-width="0.8" />
<line x1="321.8" y1="142.67" x2="538.02" y2="142.67" stroke="#f2f2f2" stroke-width="0.8" />
<line x1="321.8" y1="133.46" x2="538.02" y2="133.46" stroke="#f2f2f2" stroke-width="0.8" />
<line x1="321.8" y1="124.25" x2="538.02" y2="124.25" stroke="#f2f2f2" stroke-width="0.8" />
<line x1="321.8" y1="115.04" x2="538.02" y2="115.04" stroke="#f2f2f2" stroke-width="0.8" />
<line x1="321.8" y1="105.83" x2="538.02" y2="105.83" stroke="#f2f2f2" stroke-width="0.8" />
<line x1="321.8" y1="96.62" x2="538.02" y2="96.62" stroke="#f2f2f2" stroke-width="0.8" />
<line x1="321.8" y1="87.41" x2="538.02" y2="87.41" stroke="#f2f2f2" stroke-width="0.8" />
<line x1="321.8" y1="78.2" x2="538.02" y2="78.2" stroke="#f2f2f2" stroke-width="0.8" />
<line x1="321.8" y1="68.99" x2="538.02" y2="68.99" stroke="#f2f2f2" stroke-width="0.8" />
<line x1="321.8" y1="59.78" x2="538.02" y2="59.78" stroke="#f2f2f2" stroke-width="0.8" />
<line x1="321.8" y1="50.57" x2="538.02" y2="50.57" stroke="#f2f2f2" stroke-width="0.8" />
<line x1="321.8" y1="41.36" x2="538.02" y2="41.36" stroke="#f2f2f2" stroke-width="0.8" />
<line x1="321.8" y1="32.15" x2="538.02" y2="32.15" stroke="#f2f2f2" stroke-width="0.8" />
<line x1="321.8" y1="22.94" x2="538.02" y2="22.94" stroke="#f2f2f2" stroke-width="0.8" />
<line x1="321.8" y1="13.73" x2="538.02" y2="13.73" stroke="#f2f2f2" stroke-width="0.8" />
<rect x="321.8" y="7.6" width="216.22" height="171.91" fill="none" stroke="#d0d0d0" stroke-width="0.9"/>
<line x1="321.8" y1="7.6" x2="321.8" y2="179.51" stroke="#b4b4b4" stroke-width="1.2" />
<line x1="321.8" y1="179.51" x2="538.02" y2="179.51" stroke="#b4b4b4" stroke-width="1.2" />
<line x1="319.8" y1="179.51" x2="321.8" y2="179.51" stroke="#888" stroke-width="0.7" />
<text x="318.5" y="181.41" font-family="Liberation Sans" font-size="5.5" fill="#222" text-anchor="end" >-10,000</text>
<line x1="319.8" y1="170.3" x2="321.8" y2="170.3" stroke="#888" stroke-width="0.7" />
<text x="318.5" y="172.2" font-family="Liberation Sans" font-size="5.5" fill="#222" text-anchor="end" >0</text>
<line x1="319.8" y1="161.09" x2="321.8" y2="161.09" stroke="#888" stroke-width="0.7" />
<text x="318.5" y="162.99" font-family="Liberation Sans" font-size="5.5" fill="#222" text-anchor="end" >10,000</text>
<line x1="319.8" y1="151.88" x2="321.8" y2="151.88" stroke="#888" stroke-width="0.7" />
<text x="318.5" y="153.78" font-family="Liberation Sans" font-size="5.5" fill="#222" text-anchor="end" >20,000</text>
<line x1="319.8" y1="142.67" x2="321.8" y2="142.67" stroke="#888" stroke-width="0.7" />
<text x="318.5" y="144.57" font-family="Liberation Sans" font-size="5.5" fill="#222" text-anchor="end" >30,000</text>
<line x1="319.8" y1="133.46" x2="321.8" y2="133.46" stroke="#888" stroke-width="0.7" />
<text x="318.5" y="135.36" font-family="Liberation Sans" font-size="5.5" fill="#222" text-anchor="end" >40,000</text>
<line x1="319.8" y1="124.25" x2="321.8" y2="124.25" stroke="#888" stroke-width="0.7" />
<text x="318.5" y="126.15" font-family="Liberation Sans" font-size="5.5" fill="#222" text-anchor="end" >50,000</text>
<line x1="319.8" y1="115.04" x2="321.8" y2="115.04" stroke="#888" stroke-width="0.7" />
<text x="318.5" y="116.94" font-family="Liberation Sans" font-size="5.5" fill="#222" text-anchor="end" >60,000</text>
<line x1="319.8" y1="105.83" x2="321.8" y2="105.83" stroke="#888" stroke-width="0.7" />
<text x="318.5" y="107.73" font-family="Liberation Sans" font-size="5.5" fill="#222" text-anchor="end" >70,000</text>
<line x1="319.8" y1="96.62" x2="321.8" y2="96.62" stroke="#888" stroke-width="0.7" />
<text x="318.5" y="98.52" font-family="Liberation Sans" font-size="5.5" fill="#222" text-anchor="end" >80,000</text>
<line x1="319.8" y1="87.41" x2="321.8" y2="87.41" stroke="#888" stroke-width="0.7" />
<text x="318.5" y="89.31" font-family="Liberation Sans" font-size="5.5" fill="#222" text-anchor="end" >90,000</text>
<line x1="319.8" y1="78.2" x2="321.8" y2="78.2" stroke="#888" stroke-width="0.7" />
<text x="318.5" y="80.1" font-family="Liberation Sans" font-size="5.5" fill="#222" text-anchor="end" >100,000</text>
<line x1="319.8" y1="68.99" x2="321.8" y2="68.99" stroke="#888" stroke-width="0.7" />
<text x="318.5" y="70.89" font-family="Liberation Sans" font-size="5.5" fill="#222" text-anchor="end" >110,000</text>
<line x1="319.8" y1="59.78" x2="321.8" y2="59.78" stroke="#888" stroke-width="0.7" />
<text x="318.5" y="61.68" font-family="Liberation Sans" font-size="5.5" fill="#222" text-anchor="end" >120,000</text>
<line x1="319.8" y1="50.57" x2="321.8" y2="50.57" stroke="#888" stroke-width="0.7" />
<text x="318.5" y="52.47" font-family="Liberation Sans" font-size="5.5" fill="#222" text-anchor="end" >130,000</text>
<line x1="319.8" y1="41.36" x2="321.8" y2="41.36" stroke="#888" stroke-width="0.7" />
<text x="318.5" y="43.26" font-family="Liberation Sans" font-size="5.5" fill="#222" text-anchor="end" >140,000</text>
<line x1="319.8" y1="32.15" x2="321.8" y2="32.15" stroke="#888" stroke-width="0.7" />
<text x="318.5" y="34.05" font-family="Liberation Sans" font-size="5.5" fill="#222" text-anchor="end" >150,000</text>
<line x1="319.8" y1="22.94" x2="321.8" y2="22.94" stroke="#888" stroke-width="0.7" />
<text x="318.5" y="24.84" font-family="Liberation Sans" font-size="5.5" fill="#222" text-anchor="end" >160,000</text>
<line x1="319.8" y1="13.73" x2="321.8" y2="13.73" stroke="#888" stroke-width="0.7" />
<text x="318.5" y="15.63" font-family="Liberation Sans" font-size="5.5" fill="#222" text-anchor="end" >170,000</text>
<line x1="321.8" y1="179.51" x2="321.8" y2="181.01" stroke="#888" stroke-width="0.7" />
<text x="321.8" y="186.4" font-family="Liberation Sans" font-size="5.4" fill="#333" text-anchor="middle" >0</text>
<line x1="332.1" y1="179.51" x2="332.1" y2="181.01" stroke="#888" stroke-width="0.7" />
<text x="332.1" y="186.4" font-family="Liberation Sans" font-size="5.4" fill="#333" text-anchor="middle" >2</text>
<line x1="342.39" y1="179.51" x2="342.39" y2="181.01" stroke="#888" stroke-width="0.7" />
<text x="342.39" y="186.4" font-family="Liberation Sans" font-size="5.4" fill="#333" text-anchor="middle" >4</text>
<line x1="352.69" y1="179.51" x2="352.69" y2="181.01" stroke="#888" stroke-width="0.7" />
<text x="352.69" y="186.4" font-family="Liberation Sans" font-size="5.4" fill="#333" text-anchor="middle" >6</text>
<line x1="362.98" y1="179.51" x2="362.98" y2="181.01" stroke="#888" stroke-width="0.7" />
<text x="362.98" y="186.4" font-family="Liberation Sans" font-size="5.4" fill="#333" text-anchor="middle" >8</text>
<line x1="373.28" y1="179.51" x2="373.28" y2="181.01" stroke="#888" stroke-width="0.7" />
<text x="373.28" y="186.4" font-family="Liberation Sans" font-size="5.4" fill="#333" text-anchor="middle" >10</text>
<line x1="383.58" y1="179.51" x2="383.58" y2="181.01" stroke="#888" stroke-width="0.7" />
<text x="383.58" y="186.4" font-family="Liberation Sans" font-size="5.4" fill="#333" text-anchor="middle" >12</text>
<line x1="393.87" y1="179.51" x2="393.87" y2="181.01" stroke="#888" stroke-width="0.7" />
<text x="393.87" y="186.4" font-family="Liberation Sans" font-size="5.4" fill="#333" text-anchor="middle" >14</text>
<line x1="404.17" y1="179.51" x2="404.17" y2="181.01" stroke="#888" stroke-width="0.7" />
<text x="404.17" y="186.4" font-family="Liberation Sans" font-size="5.4" fill="#333" text-anchor="middle" >16</text>
<line x1="414.46" y1="179.51" x2="414.46" y2="181.01" stroke="#888" stroke-width="0.7" />
<text x="414.46" y="186.4" font-family="Liberation Sans" font-size="5.4" fill="#333" text-anchor="middle" >18</text>
<line x1="424.76" y1="179.51" x2="424.76" y2="181.01" stroke="#888" stroke-width="0.7" />
<text x="424.76" y="186.4" font-family="Liberation Sans" font-size="5.4" fill="#333" text-anchor="middle" >20</text>
<line x1="435.06" y1="179.51" x2="435.06" y2="181.01" stroke="#888" stroke-width="0.7" />
<text x="435.06" y="186.4" font-family="Liberation Sans" font-size="5.4" fill="#333" text-anchor="middle" >22</text>
<line x1="445.35" y1="179.51" x2="445.35" y2="181.01" stroke="#888" stroke-width="0.7" />
<text x="445.35" y="186.4" font-family="Liberation Sans" font-size="5.4" fill="#333" text-anchor="middle" >24</text>
<line x1="455.65" y1="179.51" x2="455.65" y2="181.01" stroke="#888" stroke-width="0.7" />
<text x="455.65" y="186.4" font-family="Liberation Sans" font-size="5.4" fill="#333" text-anchor="middle" >26</text>
<line x1="465.94" y1="179.51" x2="465.94" y2="181.01" stroke="#888" stroke-width="0.7" />
<text x="465.94" y="186.4" font-family="Liberation Sans" font-size="5.4" fill="#333" text-anchor="middle" >28</text>
<line x1="476.24" y1="179.51" x2="476.24" y2="181.01" stroke="#888" stroke-width="0.7" />
<text x="476.24" y="186.4" font-family="Liberation Sans" font-size="5.4" fill="#333" text-anchor="middle" >30</text>
<line x1="486.54" y1="179.51" x2="486.54" y2="181.01" stroke="#888" stroke-width="0.7" />
<text x="486.54" y="186.4" font-family="Liberation Sans" font-size="5.4" fill="#333" text-anchor="middle" >32</text>
<line x1="496.83" y1="179.51" x2="496.83" y2="181.01" stroke="#888" stroke-width="0.7" />
<text x="496.83" y="186.4" font-family="Liberation Sans" font-size="5.4" fill="#333" text-anchor="middle" >34</text>
<line x1="507.13" y1="179.51" x2="507.13" y2="181.01" stroke="#888" stroke-width="0.7" />
<text x="507.13" y="186.4" font-family="Liberation Sans" font-size="5.4" fill="#333" text-anchor="middle" >36</text>
<line x1="517.42" y1="179.51" x2="517.42" y2="181.01" stroke="#888" stroke-width="0.7" />
<text x="517.42" y="186.4" font-family="Liberation Sans" font-size="5.4" fill="#333" text-anchor="middle" >38</text>
<line x1="527.72" y1="179.51" x2="527.72" y2="181.01" stroke="#888" stroke-width="0.7" />
<text x="527.72" y="186.4" font-family="Liberation Sans" font-size="5.4" fill="#333" text-anchor="middle" >40</text>
<line x1="538.02" y1="179.51" x2="538.02" y2="181.01" stroke="#888" stroke-width="0.7" />
<text x="538.02" y="186.4" font-family="Liberation Sans" font-size="5.4" fill="#333" text-anchor="middle" >42</text>
<path d="M326.95,167.08 L327.98,167.32 L329.01,167.57 L330.04,167.81 L331.07,168.04 L332.1,168.27 L333.13,168.52 L334.16,168.78 L335.18,169.03 L336.21,169.24 L337.24,169.38 L338.27,169.47 L339.3,169.55 L340.33,169.63 L341.36,169.7 L342.39,169.76 L343.42,169.79 L344.45,169.82 L345.48,169.85 L346.51,169.87 L347.54,169.88 L348.57,169.89 L349.6,169.91 L350.63,169.92 L351.66,169.93 L352.69,169.94 L353.72,169.96 L354.75,169.97 L355.78,169.98 L356.81,169.99 L357.84,170 L358.87,170.01 L359.9,170.02 L360.92,170.03 L361.95,170.04 L362.98,170.05 L364.01,170.07 L365.04,170.08 L366.07,170.1 L367.1,170.11 L368.13,170.13 L369.16,170.14 L370.19,170.16 L371.22,170.18 L372.25,170.19 L373.28,170.2 L374.31,170.22 L375.34,170.23 L376.37,170.24 L377.4,170.24 L378.43,170.25 L379.46,170.25 L380.49,170.25 L381.52,170.25 L382.55,170.25 L383.58,170.24 L384.61,170.23 L385.64,170.22 L386.66,170.21 L387.69,170.2 L388.72,170.18 L389.75,170.16 L390.78,170.14 L391.81,170.12 L392.84,170.1 L393.87,170.07 L394.9,170.04 L395.93,170.01 L396.96,169.98 L397.99,169.94 L399.02,169.9 L400.05,169.86 L401.08,169.81 L402.11,169.76 L403.14,169.7 L404.17,169.64 L405.2,169.57 L406.23,169.49 L407.26,169.41 L408.29,169.31 L409.32,169.2 L410.35,169.08 L411.38,168.94 L412.4,168.78 L413.43,168.6 L414.46,168.39 L415.49,168.16 L416.52,167.89 L417.55,167.59 L418.58,167.24 L419.61,166.84 L420.64,166.39 L421.67,165.88 L422.7,165.3 L423.73,164.64 L424.76,163.9 L425.79,163.06 L426.82,162.13 L427.85,161.08 L428.88,159.92 L429.91,158.62 L430.94,157.19 L431.97,155.62 L433,153.9 L434.03,152.03 L435.06,150.01 L436.09,147.83 L437.12,145.5 L438.14,143.02 L439.17,140.4 L440.2,137.66 L441.23,134.79 L442.26,131.83 L443.29,128.78 L444.32,125.66 L445.35,122.5 L446.38,119.31 L447.41,116.1 L448.44,112.91 L449.47,109.73 L450.5,106.6 L451.53,103.51 L452.56,100.48 L453.59,97.52 L454.62,94.63 L455.65,91.82 L456.68,89.08 L457.71,86.41 L458.74,83.82 L459.77,81.3 L460.8,78.85 L461.83,76.46 L462.86,74.13 L463.88,71.84 L464.91,69.61 L465.94,67.42 L466.97,65.27 L468,63.15 L469.03,61.08 L470.06,59.04 L471.09,57.03 L472.12,55.06 L473.15,53.14 L474.18,51.26 L475.21,49.43 L476.24,47.65 L477.27,45.92 L478.3,44.26 L479.33,42.65 L480.36,41.11 L481.39,39.63 L482.42,38.21 L483.45,36.86 L484.48,35.58 L485.51,34.36 L486.54,33.2 L487.57,32.1 L488.6,31.07 L489.62,30.09 L490.65,29.17 L491.68,28.3 L492.71,27.48 L493.74,26.71 L494.77,25.99 L495.8,25.31 L496.83,24.66 L497.86,24.06 L498.89,23.5 L499.92,22.96 L500.95,22.46 L501.98,21.99 L503.01,21.55 L504.04,21.13 L505.07,20.73 L506.1,20.35 L507.13,20 L508.16,19.65 L509.19,19.33 L510.22,19.02 L511.25,18.72 L512.28,18.43 L513.31,18.15 L514.34,17.89 L515.36,17.64 L516.39,17.4 L517.42,17.16 L518.45,16.94 L519.48,16.73 L520.51,16.52 L521.54,16.32 L522.57,16.12 L523.6,15.94 L524.63,15.75 L525.66,15.58 L526.69,15.41 L527.72,15.25" fill="none" stroke="#7389cc" stroke-width="1.2" stroke-linejoin="round" stroke-linecap="round"/>
<path d="M326.95,166.16 L327.98,167.39 L329.01,168.47 L330.04,169.34 L331.07,169.96 L332.1,170.3 L333.13,170.46 L334.16,170.56 L335.18,170.53 L336.21,170.29 L337.24,170.12 L338.27,170.1 L339.3,170.08 L340.33,170.06 L341.36,170.05 L342.39,170.04 L343.42,170.04 L344.45,170.03 L345.48,170.03 L346.51,170.03 L347.54,170.03 L348.57,170.03 L349.6,170.03 L350.63,170.03 L351.66,170.03 L352.69,170.03 L353.72,170.03 L354.75,170.03 L355.78,170.03 L356.81,170.03 L357.84,170.03 L358.87,170.04 L359.9,170.04 L360.92,170.05 L361.95,170.05 L362.98,170.06 L364.01,170.07 L365.04,170.08 L366.07,170.09 L367.1,170.11 L368.13,170.12 L369.16,170.14 L370.19,170.15 L371.22,170.17 L372.25,170.19 L373.28,170.2 L374.31,170.22 L375.34,170.23 L376.37,170.24 L377.4,170.25 L378.43,170.26 L379.46,170.27 L380.49,170.28 L381.52,170.28 L382.55,170.29 L383.58,170.29 L384.61,170.29 L385.64,170.29 L386.66,170.3 L387.69,170.3 L388.72,170.3 L389.75,170.3 L390.78,170.3 L391.81,170.29 L392.84,170.29 L393.87,170.29 L394.9,170.29 L395.93,170.28 L396.96,170.28 L397.99,170.27 L399.02,170.27 L400.05,170.26 L401.08,170.26 L402.11,170.25 L403.14,170.24 L404.17,170.23 L405.2,170.22 L406.23,170.21 L407.26,170.2 L408.29,170.19 L409.32,170.18 L410.35,170.17 L411.38,170.15 L412.4,170.14 L413.43,170.12 L414.46,170.11 L415.49,170.09 L416.52,170.07 L417.55,170.05 L418.58,170.03 L419.61,170 L420.64,169.97 L421.67,169.95 L422.7,169.91 L423.73,169.88 L424.76,169.84 L425.79,169.8 L426.82,169.75 L427.85,169.69 L428.88,169.63 L429.91,169.56 L430.94,169.49 L431.97,169.4 L433,169.3 L434.03,169.19 L435.06,169.07 L436.09,168.92 L437.12,168.76 L438.14,168.58 L439.17,168.37 L440.2,168.13 L441.23,167.85 L442.26,167.54 L443.29,167.18 L444.32,166.76 L445.35,166.29 L446.38,165.76 L447.41,165.15 L448.44,164.47 L449.47,163.71 L450.5,162.85 L451.53,161.89 L452.56,160.84 L453.59,159.67 L454.62,158.39 L455.65,156.99 L456.68,155.48 L457.71,153.83 L458.74,152.07 L459.77,150.18 L460.8,148.17 L461.83,146.05 L462.86,143.8 L463.88,141.45 L464.91,138.99 L465.94,136.42 L466.97,133.77 L468,131.03 L469.03,128.21 L470.06,125.32 L471.09,122.37 L472.12,119.37 L473.15,116.34 L474.18,113.29 L475.21,110.23 L476.24,107.18 L477.27,104.16 L478.3,101.16 L479.33,98.22 L480.36,95.33 L481.39,92.51 L482.42,89.75 L483.45,87.07 L484.48,84.46 L485.51,81.92 L486.54,79.45 L487.57,77.05 L488.6,74.71 L489.62,72.44 L490.65,70.23 L491.68,68.09 L492.71,66.01 L493.74,64 L494.77,62.07 L495.8,60.2 L496.83,58.41 L497.86,56.7 L498.89,55.06 L499.92,53.5 L500.95,52.01 L501.98,50.59 L503.01,49.25 L504.04,47.98 L505.07,46.78 L506.1,45.64 L507.13,44.56 L508.16,43.55 L509.19,42.6 L510.22,41.7 L511.25,40.85 L512.28,40.05 L513.31,39.3 L514.34,38.59 L515.36,37.92 L516.39,37.28 L517.42,36.67 L518.45,36.09 L519.48,35.52 L520.51,34.98 L521.54,34.46 L522.57,33.95 L523.6,33.46 L524.63,32.99 L525.66,32.54 L526.69,32.11 L527.72,31.7" fill="none" stroke="#55c8e2" stroke-width="1.2" stroke-linejoin="round" stroke-linecap="round"/>
<path d="M326.95,162.2 L327.98,164 L329.01,165.52 L330.04,166.73 L331.07,167.74 L332.1,168.46 L333.13,168.92 L334.16,169.26 L335.18,169.48 L336.21,169.65 L337.24,169.75 L338.27,169.78 L339.3,169.81 L340.33,169.84 L341.36,169.86 L342.39,169.88 L343.42,169.87 L344.45,169.88 L345.48,169.89 L346.51,169.9 L347.54,169.91 L348.57,169.92 L349.6,169.93 L350.63,169.94 L351.66,169.95 L352.69,169.96 L353.72,169.97 L354.75,169.98 L355.78,169.98 L356.81,169.99 L357.84,170 L358.87,170.01 L359.9,170.02 L360.92,170.03 L361.95,170.04 L362.98,170.05 L364.01,170.07 L365.04,170.08 L366.07,170.1 L367.1,170.11 L368.13,170.13 L369.16,170.14 L370.19,170.16 L371.22,170.18 L372.25,170.19 L373.28,170.21 L374.31,170.22 L375.34,170.24 L376.37,170.25 L377.4,170.26 L378.43,170.27 L379.46,170.27 L380.49,170.28 L381.52,170.28 L382.55,170.29 L383.58,170.29 L384.61,170.29 L385.64,170.3 L386.66,170.3 L387.69,170.3 L388.72,170.3 L389.75,170.3 L390.78,170.29 L391.81,170.29 L392.84,170.29 L393.87,170.29 L394.9,170.29 L395.93,170.28 L396.96,170.28 L397.99,170.27 L399.02,170.27 L400.05,170.26 L401.08,170.25 L402.11,170.24 L403.14,170.24 L404.17,170.23 L405.2,170.22 L406.23,170.21 L407.26,170.2 L408.29,170.19 L409.32,170.17 L410.35,170.16 L411.38,170.15 L412.4,170.14 L413.43,170.12 L414.46,170.11 L415.49,170.1 L416.52,170.08 L417.55,170.07 L418.58,170.05 L419.61,170.04 L420.64,170.02 L421.67,170 L422.7,169.99 L423.73,169.97 L424.76,169.95 L425.79,169.93 L426.82,169.92 L427.85,169.9 L428.88,169.88 L429.91,169.86 L430.94,169.84 L431.97,169.82 L433,169.8 L434.03,169.78 L435.06,169.76 L436.09,169.74 L437.12,169.72 L438.14,169.7 L439.17,169.69 L440.2,169.67 L441.23,169.65 L442.26,169.63 L443.29,169.61 L444.32,169.59 L445.35,169.57 L446.38,169.55 L447.41,169.53 L448.44,169.51 L449.47,169.49 L450.5,169.47 L451.53,169.45 L452.56,169.43 L453.59,169.41 L454.62,169.38 L455.65,169.35 L456.68,169.32 L457.71,169.29 L458.74,169.25 L459.77,169.21 L460.8,169.16 L461.83,169.11 L462.86,169.06 L463.88,168.99 L464.91,168.93 L465.94,168.85 L466.97,168.77 L468,168.68 L469.03,168.58 L470.06,168.48 L471.09,168.36 L472.12,168.24 L473.15,168.1 L474.18,167.95 L475.21,167.79 L476.24,167.61 L477.27,167.41 L478.3,167.18 L479.33,166.92 L480.36,166.63 L481.39,166.29 L482.42,165.9 L483.45,165.45 L484.48,164.92 L485.51,164.32 L486.54,163.63 L487.57,162.84 L488.6,161.93 L489.62,160.9 L490.65,159.73 L491.68,158.42 L492.71,156.95 L493.74,155.31 L494.77,153.5 L495.8,151.52 L496.83,149.37 L497.86,147.04 L498.89,144.55 L499.92,141.91 L500.95,139.12 L501.98,136.22 L503.01,133.21 L504.04,130.12 L505.07,126.96 L506.1,123.77 L507.13,120.56 L508.16,117.35 L509.19,114.17 L510.22,111.02 L511.25,107.92 L512.28,104.88 L513.31,101.93 L514.34,99.05 L515.36,96.28 L516.39,93.6 L517.42,91.03 L518.45,88.56 L519.48,86.21 L520.51,83.98 L521.54,81.87 L522.57,79.87 L523.6,78 L524.63,76.24 L525.66,74.6 L526.69,73.07 L527.72,71.65" fill="none" stroke="#92da78" stroke-width="1.2" stroke-linejoin="round" stroke-linecap="round"/>
<path d="M326.95,162.2 L327.98,164 L329.01,165.52 L330.04,166.73 L331.07,167.74 L332.1,168.46 L333.13,168.92 L334.16,169.26 L335.18,169.48 L336.21,169.65 L337.24,169.75 L338.27,169.78 L339.3,169.81 L340.33,169.84 L341.36,169.86 L342.39,169.88 L343.42,169.87 L344.45,169.88 L345.48,169.89 L346.51,169.9 L347.54,169.91 L348.57,169.92 L349.6,169.93 L350.63,169.94 L351.66,169.95 L352.69,169.96 L353.72,169.97 L354.75,169.98 L355.78,169.98 L356.81,169.99 L357.84,170 L358.87,170.01 L359.9,170.02 L360.92,170.03 L361.95,170.04 L362.98,170.05 L364.01,170.07 L365.04,170.08 L366.07,170.1 L367.1,170.11 L368.13,170.13 L369.16,170.14 L370.19,170.16 L371.22,170.18 L372.25,170.19 L373.28,170.21 L374.31,170.22 L375.34,170.24 L376.37,170.25 L377.4,170.26 L378.43,170.27 L379.46,170.27 L380.49,170.28 L381.52,170.28 L382.55,170.29 L383.58,170.29 L384.61,170.29 L385.64,170.3 L386.66,170.3 L387.69,170.3 L388.72,170.3 L389.75,170.3 L390.78,170.3 L391.81,170.29 L392.84,170.29 L393.87,170.29 L394.9,170.29 L395.93,170.28 L396.96,170.28 L397.99,170.27 L399.02,170.27 L400.05,170.26 L401.08,170.26 L402.11,170.25 L403.14,170.24 L404.17,170.23 L405.2,170.22 L406.23,170.21 L407.26,170.2 L408.29,170.19 L409.32,170.17 L410.35,170.16 L411.38,170.15 L412.4,170.13 L413.43,170.12 L414.46,170.1 L415.49,170.08 L416.52,170.06 L417.55,170.05 L418.58,170.02 L419.61,170 L420.64,169.98 L421.67,169.96 L422.7,169.93 L423.73,169.91 L424.76,169.88 L425.79,169.85 L426.82,169.83 L427.85,169.8 L428.88,169.76 L429.91,169.73 L430.94,169.7 L431.97,169.67 L433,169.63 L434.03,169.59 L435.06,169.55 L436.09,169.51 L437.12,169.47 L438.14,169.42 L439.17,169.37 L440.2,169.32 L441.23,169.26 L442.26,169.19 L443.29,169.12 L444.32,169.04 L445.35,168.95 L446.38,168.86 L447.41,168.75 L448.44,168.63 L449.47,168.49 L450.5,168.34 L451.53,168.17 L452.56,167.99 L453.59,167.79 L454.62,167.58 L455.65,167.34 L456.68,167.08 L457.71,166.81 L458.74,166.51 L459.77,166.18 L460.8,165.83 L461.83,165.45 L462.86,165.04 L463.88,164.59 L464.91,164.09 L465.94,163.55 L466.97,162.94 L468,162.27 L469.03,161.52 L470.06,160.69 L471.09,159.76 L472.12,158.73 L473.15,157.59 L474.18,156.33 L475.21,154.94 L476.24,153.41 L477.27,151.75 L478.3,149.94 L479.33,147.99 L480.36,145.9 L481.39,143.67 L482.42,141.3 L483.45,138.8 L484.48,136.19 L485.51,133.48 L486.54,130.68 L487.57,127.81 L488.6,124.89 L489.62,121.93 L490.65,118.95 L491.68,115.98 L492.71,113.02 L493.74,110.09 L494.77,107.21 L495.8,104.38 L496.83,101.61 L497.86,98.92 L498.89,96.3 L499.92,93.75 L500.95,91.29 L501.98,88.91 L503.01,86.61 L504.04,84.39 L505.07,82.24 L506.1,80.15 L507.13,78.14 L508.16,76.19 L509.19,74.29 L510.22,72.45 L511.25,70.65 L512.28,68.9 L513.31,67.19 L514.34,65.52 L515.36,63.89 L516.39,62.29 L517.42,60.73 L518.45,59.2 L519.48,57.7 L520.51,56.25 L521.54,54.84 L522.57,53.48 L523.6,52.17 L524.63,50.92 L525.66,49.72 L526.69,48.59 L527.72,47.52" fill="none" stroke="#48cc9e" stroke-width="1.25" stroke-linejoin="round" stroke-linecap="round"/>
<line x1="321.8" y1="150.81" x2="538.02" y2="150.81" stroke="#4ba6e0" stroke-width="1.3" />
<text x="321.6" y="150.6" font-family="Liberation Serif" font-size="7.5" font-weight="bold" fill="#cc2020" textLength="44.6" lengthAdjust="spacingAndGlyphs">21,159.823368</text>
<text x="455.8" y="46.7" font-family="Liberation Serif" font-size="11.8" font-weight="bold" fill="#111" textLength="14.2" lengthAdjust="spacingAndGlyphs" stroke="#111" stroke-width="0.25">10</text>
<text x="471.1" y="42.4" font-family="Liberation Serif" font-size="8.4" font-weight="bold" fill="#111" textLength="6.2" lengthAdjust="spacingAndGlyphs" stroke="#111" stroke-width="0.15">3</text>
<text x="481.7" y="68.1" font-family="Liberation Serif" font-size="11.8" font-weight="bold" fill="#111" textLength="14.2" lengthAdjust="spacingAndGlyphs" stroke="#111" stroke-width="0.25">10</text>
<text x="495.6" y="63.0" font-family="Liberation Serif" font-size="8.4" font-weight="bold" fill="#111" textLength="6.2" lengthAdjust="spacingAndGlyphs" stroke="#111" stroke-width="0.15">2</text>
<text x="495.8" y="93.0" font-family="Liberation Serif" font-size="11.8" font-weight="bold" fill="#111" textLength="14.2" lengthAdjust="spacingAndGlyphs" stroke="#111" stroke-width="0.25">10</text>
<text x="509.8" y="88.6" font-family="Liberation Serif" font-size="8.4" font-weight="bold" fill="#111" textLength="6.2" lengthAdjust="spacingAndGlyphs" stroke="#111" stroke-width="0.15">1</text>
<text x="508.6" y="114.5" font-family="Liberation Serif" font-size="11.8" font-weight="bold" fill="#111" textLength="14.2" lengthAdjust="spacingAndGlyphs" stroke="#111" stroke-width="0.25">10</text>
<text x="522.5" y="110.1" font-family="Liberation Serif" font-size="8.4" font-weight="bold" fill="#111" textLength="6.2" lengthAdjust="spacingAndGlyphs" stroke="#111" stroke-width="0.15">0</text>
<text x="275.6" y="18.6" font-family="Liberation Sans" font-size="18.8" fill="#000" font-weight="bold" >b</text>
<text x="0" y="0" font-family="Liberation Sans" font-size="16.5" font-weight="bold" fill="#000" textLength="30.3" lengthAdjust="spacingAndGlyphs" transform="translate(293.3,111.0) rotate(-90)">ΔRn</text>
<text x="404" y="199.8" font-family="Liberation Sans" font-size="12.2" fill="#000" font-weight="bold" textLength="30.6" lengthAdjust="spacingAndGlyphs" >Cycle</text>
<line x1="326.61" y1="206" x2="326.61" y2="391.3" stroke="#f2f2f2" stroke-width="0.8" />
<line x1="338.02" y1="206" x2="338.02" y2="391.3" stroke="#f2f2f2" stroke-width="0.8" />
<line x1="349.44" y1="206" x2="349.44" y2="391.3" stroke="#f2f2f2" stroke-width="0.8" />
<line x1="360.86" y1="206" x2="360.86" y2="391.3" stroke="#f2f2f2" stroke-width="0.8" />
<line x1="372.27" y1="206" x2="372.27" y2="391.3" stroke="#f2f2f2" stroke-width="0.8" />
<line x1="383.69" y1="206" x2="383.69" y2="391.3" stroke="#f2f2f2" stroke-width="0.8" />
<line x1="395.1" y1="206" x2="395.1" y2="391.3" stroke="#f2f2f2" stroke-width="0.8" />
<line x1="406.52" y1="206" x2="406.52" y2="391.3" stroke="#f2f2f2" stroke-width="0.8" />
<line x1="417.94" y1="206" x2="417.94" y2="391.3" stroke="#f2f2f2" stroke-width="0.8" />
<line x1="429.35" y1="206" x2="429.35" y2="391.3" stroke="#f2f2f2" stroke-width="0.8" />
<line x1="440.77" y1="206" x2="440.77" y2="391.3" stroke="#f2f2f2" stroke-width="0.8" />
<line x1="452.18" y1="206" x2="452.18" y2="391.3" stroke="#f2f2f2" stroke-width="0.8" />
<line x1="463.6" y1="206" x2="463.6" y2="391.3" stroke="#f2f2f2" stroke-width="0.8" />
<line x1="475.02" y1="206" x2="475.02" y2="391.3" stroke="#f2f2f2" stroke-width="0.8" />
<line x1="486.43" y1="206" x2="486.43" y2="391.3" stroke="#f2f2f2" stroke-width="0.8" />
<line x1="497.85" y1="206" x2="497.85" y2="391.3" stroke="#f2f2f2" stroke-width="0.8" />
<line x1="509.26" y1="206" x2="509.26" y2="391.3" stroke="#f2f2f2" stroke-width="0.8" />
<line x1="520.68" y1="206" x2="520.68" y2="391.3" stroke="#f2f2f2" stroke-width="0.8" />
<line x1="532.1" y1="206" x2="532.1" y2="391.3" stroke="#f2f2f2" stroke-width="0.8" />
<line x1="543.51" y1="206" x2="543.51" y2="391.3" stroke="#f2f2f2" stroke-width="0.8" />
<line x1="320.9" y1="382.7" x2="543.51" y2="382.7" stroke="#f2f2f2" stroke-width="0.8" />
<line x1="320.9" y1="370.73" x2="543.51" y2="370.73" stroke="#f2f2f2" stroke-width="0.8" />
<line x1="320.9" y1="358.76" x2="543.51" y2="358.76" stroke="#f2f2f2" stroke-width="0.8" />
<line x1="320.9" y1="346.79" x2="543.51" y2="346.79" stroke="#f2f2f2" stroke-width="0.8" />
<line x1="320.9" y1="334.82" x2="543.51" y2="334.82" stroke="#f2f2f2" stroke-width="0.8" />
<line x1="320.9" y1="322.85" x2="543.51" y2="322.85" stroke="#f2f2f2" stroke-width="0.8" />
<line x1="320.9" y1="310.88" x2="543.51" y2="310.88" stroke="#f2f2f2" stroke-width="0.8" />
<line x1="320.9" y1="298.91" x2="543.51" y2="298.91" stroke="#f2f2f2" stroke-width="0.8" />
<line x1="320.9" y1="286.94" x2="543.51" y2="286.94" stroke="#f2f2f2" stroke-width="0.8" />
<line x1="320.9" y1="274.97" x2="543.51" y2="274.97" stroke="#f2f2f2" stroke-width="0.8" />
<line x1="320.9" y1="263" x2="543.51" y2="263" stroke="#f2f2f2" stroke-width="0.8" />
<line x1="320.9" y1="251.03" x2="543.51" y2="251.03" stroke="#f2f2f2" stroke-width="0.8" />
<line x1="320.9" y1="239.06" x2="543.51" y2="239.06" stroke="#f2f2f2" stroke-width="0.8" />
<line x1="320.9" y1="227.09" x2="543.51" y2="227.09" stroke="#f2f2f2" stroke-width="0.8" />
<line x1="320.9" y1="215.12" x2="543.51" y2="215.12" stroke="#f2f2f2" stroke-width="0.8" />
<rect x="320.9" y="206.0" width="222.61" height="185.3" fill="none" stroke="#d0d0d0" stroke-width="0.9"/>
<line x1="320.9" y1="206" x2="320.9" y2="391.3" stroke="#b4b4b4" stroke-width="1.2" />
<line x1="320.9" y1="391.3" x2="543.51" y2="391.3" stroke="#b4b4b4" stroke-width="1.2" />
<line x1="318.9" y1="382.7" x2="320.9" y2="382.7" stroke="#888" stroke-width="0.7" />
<text x="317.6" y="385.2" font-family="Liberation Sans" font-size="5.7" fill="#222" text-anchor="end" >0</text>
<line x1="318.9" y1="370.73" x2="320.9" y2="370.73" stroke="#888" stroke-width="0.7" />
<text x="317.6" y="373.23" font-family="Liberation Sans" font-size="5.7" fill="#222" text-anchor="end" >10,000</text>
<line x1="318.9" y1="358.76" x2="320.9" y2="358.76" stroke="#888" stroke-width="0.7" />
<text x="317.6" y="361.26" font-family="Liberation Sans" font-size="5.7" fill="#222" text-anchor="end" >20,000</text>
<line x1="318.9" y1="346.79" x2="320.9" y2="346.79" stroke="#888" stroke-width="0.7" />
<text x="317.6" y="349.29" font-family="Liberation Sans" font-size="5.7" fill="#222" text-anchor="end" >30,000</text>
<line x1="318.9" y1="334.82" x2="320.9" y2="334.82" stroke="#888" stroke-width="0.7" />
<text x="317.6" y="337.32" font-family="Liberation Sans" font-size="5.7" fill="#222" text-anchor="end" >40,000</text>
<line x1="318.9" y1="322.85" x2="320.9" y2="322.85" stroke="#888" stroke-width="0.7" />
<text x="317.6" y="325.35" font-family="Liberation Sans" font-size="5.7" fill="#222" text-anchor="end" >50,000</text>
<line x1="318.9" y1="310.88" x2="320.9" y2="310.88" stroke="#888" stroke-width="0.7" />
<text x="317.6" y="313.38" font-family="Liberation Sans" font-size="5.7" fill="#222" text-anchor="end" >60,000</text>
<line x1="318.9" y1="298.91" x2="320.9" y2="298.91" stroke="#888" stroke-width="0.7" />
<text x="317.6" y="301.41" font-family="Liberation Sans" font-size="5.7" fill="#222" text-anchor="end" >70,000</text>
<line x1="318.9" y1="286.94" x2="320.9" y2="286.94" stroke="#888" stroke-width="0.7" />
<text x="317.6" y="289.44" font-family="Liberation Sans" font-size="5.7" fill="#222" text-anchor="end" >80,000</text>
<line x1="318.9" y1="274.97" x2="320.9" y2="274.97" stroke="#888" stroke-width="0.7" />
<text x="317.6" y="277.47" font-family="Liberation Sans" font-size="5.7" fill="#222" text-anchor="end" >90,000</text>
<line x1="318.9" y1="263" x2="320.9" y2="263" stroke="#888" stroke-width="0.7" />
<text x="317.6" y="265.5" font-family="Liberation Sans" font-size="5.7" fill="#222" text-anchor="end" >100,000</text>
<line x1="318.9" y1="251.03" x2="320.9" y2="251.03" stroke="#888" stroke-width="0.7" />
<text x="317.6" y="253.53" font-family="Liberation Sans" font-size="5.7" fill="#222" text-anchor="end" >110,000</text>
<line x1="318.9" y1="239.06" x2="320.9" y2="239.06" stroke="#888" stroke-width="0.7" />
<text x="317.6" y="241.56" font-family="Liberation Sans" font-size="5.7" fill="#222" text-anchor="end" >120,000</text>
<line x1="318.9" y1="227.09" x2="320.9" y2="227.09" stroke="#888" stroke-width="0.7" />
<text x="317.6" y="229.59" font-family="Liberation Sans" font-size="5.7" fill="#222" text-anchor="end" >130,000</text>
<line x1="318.9" y1="215.12" x2="320.9" y2="215.12" stroke="#888" stroke-width="0.7" />
<text x="317.6" y="217.62" font-family="Liberation Sans" font-size="5.7" fill="#222" text-anchor="end" >140,000</text>
<line x1="326.61" y1="391.3" x2="326.61" y2="392.8" stroke="#888" stroke-width="0.7" />
<text x="326.61" y="398.2" font-family="Liberation Sans" font-size="5.4" fill="#333" text-anchor="middle" >2</text>
<line x1="338.02" y1="391.3" x2="338.02" y2="392.8" stroke="#888" stroke-width="0.7" />
<text x="338.02" y="398.2" font-family="Liberation Sans" font-size="5.4" fill="#333" text-anchor="middle" >4</text>
<line x1="349.44" y1="391.3" x2="349.44" y2="392.8" stroke="#888" stroke-width="0.7" />
<text x="349.44" y="398.2" font-family="Liberation Sans" font-size="5.4" fill="#333" text-anchor="middle" >6</text>
<line x1="360.86" y1="391.3" x2="360.86" y2="392.8" stroke="#888" stroke-width="0.7" />
<text x="360.86" y="398.2" font-family="Liberation Sans" font-size="5.4" fill="#333" text-anchor="middle" >8</text>
<line x1="372.27" y1="391.3" x2="372.27" y2="392.8" stroke="#888" stroke-width="0.7" />
<text x="372.27" y="398.2" font-family="Liberation Sans" font-size="5.4" fill="#333" text-anchor="middle" >10</text>
<line x1="383.69" y1="391.3" x2="383.69" y2="392.8" stroke="#888" stroke-width="0.7" />
<text x="383.69" y="398.2" font-family="Liberation Sans" font-size="5.4" fill="#333" text-anchor="middle" >12</text>
<line x1="395.1" y1="391.3" x2="395.1" y2="392.8" stroke="#888" stroke-width="0.7" />
<text x="395.1" y="398.2" font-family="Liberation Sans" font-size="5.4" fill="#333" text-anchor="middle" >14</text>
<line x1="406.52" y1="391.3" x2="406.52" y2="392.8" stroke="#888" stroke-width="0.7" />
<text x="406.52" y="398.2" font-family="Liberation Sans" font-size="5.4" fill="#333" text-anchor="middle" >16</text>
<line x1="417.94" y1="391.3" x2="417.94" y2="392.8" stroke="#888" stroke-width="0.7" />
<text x="417.94" y="398.2" font-family="Liberation Sans" font-size="5.4" fill="#333" text-anchor="middle" >18</text>
<line x1="429.35" y1="391.3" x2="429.35" y2="392.8" stroke="#888" stroke-width="0.7" />
<text x="429.35" y="398.2" font-family="Liberation Sans" font-size="5.4" fill="#333" text-anchor="middle" >20</text>
<line x1="440.77" y1="391.3" x2="440.77" y2="392.8" stroke="#888" stroke-width="0.7" />
<text x="440.77" y="398.2" font-family="Liberation Sans" font-size="5.4" fill="#333" text-anchor="middle" >22</text>
<line x1="452.18" y1="391.3" x2="452.18" y2="392.8" stroke="#888" stroke-width="0.7" />
<text x="452.18" y="398.2" font-family="Liberation Sans" font-size="5.4" fill="#333" text-anchor="middle" >24</text>
<line x1="463.6" y1="391.3" x2="463.6" y2="392.8" stroke="#888" stroke-width="0.7" />
<text x="463.6" y="398.2" font-family="Liberation Sans" font-size="5.4" fill="#333" text-anchor="middle" >26</text>
<line x1="475.02" y1="391.3" x2="475.02" y2="392.8" stroke="#888" stroke-width="0.7" />
<text x="475.02" y="398.2" font-family="Liberation Sans" font-size="5.4" fill="#333" text-anchor="middle" >28</text>
<line x1="486.43" y1="391.3" x2="486.43" y2="392.8" stroke="#888" stroke-width="0.7" />
<text x="486.43" y="398.2" font-family="Liberation Sans" font-size="5.4" fill="#333" text-anchor="middle" >30</text>
<line x1="497.85" y1="391.3" x2="497.85" y2="392.8" stroke="#888" stroke-width="0.7" />
<text x="497.85" y="398.2" font-family="Liberation Sans" font-size="5.4" fill="#333" text-anchor="middle" >32</text>
<line x1="509.26" y1="391.3" x2="509.26" y2="392.8" stroke="#888" stroke-width="0.7" />
<text x="509.26" y="398.2" font-family="Liberation Sans" font-size="5.4" fill="#333" text-anchor="middle" >34</text>
<line x1="520.68" y1="391.3" x2="520.68" y2="392.8" stroke="#888" stroke-width="0.7" />
<text x="520.68" y="398.2" font-family="Liberation Sans" font-size="5.4" fill="#333" text-anchor="middle" >36</text>
<line x1="532.1" y1="391.3" x2="532.1" y2="392.8" stroke="#888" stroke-width="0.7" />
<text x="532.1" y="398.2" font-family="Liberation Sans" font-size="5.4" fill="#333" text-anchor="middle" >38</text>
<line x1="543.51" y1="391.3" x2="543.51" y2="392.8" stroke="#888" stroke-width="0.7" />
<text x="543.51" y="398.2" font-family="Liberation Sans" font-size="5.4" fill="#333" text-anchor="middle" >40</text>
<path d="M320.9,381.5 L322.04,381.72 L323.18,381.92 L324.32,382.1 L325.47,382.25 L326.61,382.34 L327.75,382.4 L328.89,382.46 L330.03,382.51 L331.17,382.56 L332.32,382.6 L333.46,382.63 L334.6,382.66 L335.74,382.68 L336.88,382.7 L338.02,382.7 L339.17,382.69 L340.31,382.68 L341.45,382.67 L342.59,382.67 L343.73,382.66 L344.87,382.65 L346.02,382.65 L347.16,382.65 L348.3,382.65 L349.44,382.66 L350.58,382.67 L351.72,382.68 L352.86,382.7 L354.01,382.72 L355.15,382.75 L356.29,382.78 L357.43,382.82 L358.57,382.86 L359.71,382.92 L360.86,382.97 L362,383.03 L363.14,383.09 L364.28,383.15 L365.42,383.21 L366.56,383.26 L367.71,383.32 L368.85,383.37 L369.99,383.41 L371.13,383.44 L372.27,383.47 L373.41,383.5 L374.56,383.51 L375.7,383.52 L376.84,383.52 L377.98,383.52 L379.12,383.51 L380.26,383.49 L381.4,383.47 L382.55,383.45 L383.69,383.42 L384.83,383.39 L385.97,383.36 L387.11,383.32 L388.25,383.28 L389.4,383.24 L390.54,383.19 L391.68,383.15 L392.82,383.1 L393.96,383.05 L395.1,383 L396.25,382.96 L397.39,382.91 L398.53,382.87 L399.67,382.83 L400.81,382.79 L401.95,382.75 L403.1,382.72 L404.24,382.69 L405.38,382.66 L406.52,382.64 L407.66,382.61 L408.8,382.59 L409.94,382.57 L411.09,382.55 L412.23,382.53 L413.37,382.51 L414.51,382.49 L415.65,382.46 L416.79,382.44 L417.94,382.41 L419.08,382.38 L420.22,382.35 L421.36,382.32 L422.5,382.29 L423.64,382.25 L424.79,382.22 L425.93,382.18 L427.07,382.14 L428.21,382.1 L429.35,382.07 L430.49,382.03 L431.64,381.99 L432.78,381.95 L433.92,381.91 L435.06,381.87 L436.2,381.83 L437.34,381.79 L438.48,381.75 L439.63,381.71 L440.77,381.66 L441.91,381.6 L443.05,381.54 L444.19,381.46 L445.33,381.37 L446.48,381.26 L447.62,381.13 L448.76,380.97 L449.9,380.78 L451.04,380.56 L452.18,380.29 L453.33,379.98 L454.47,379.62 L455.61,379.2 L456.75,378.72 L457.89,378.18 L459.03,377.58 L460.18,376.91 L461.32,376.18 L462.46,375.37 L463.6,374.5 L464.74,373.57 L465.88,372.56 L467.02,371.5 L468.17,370.37 L469.31,369.18 L470.45,367.93 L471.59,366.63 L472.73,365.27 L473.87,363.86 L475.02,362.4 L476.16,360.9 L477.3,359.36 L478.44,357.77 L479.58,356.16 L480.72,354.51 L481.87,352.84 L483.01,351.15 L484.15,349.44 L485.29,347.72 L486.43,346 L487.57,344.27 L488.72,342.55 L489.86,340.83 L491,339.12 L492.14,337.43 L493.28,335.75 L494.42,334.08 L495.56,332.44 L496.71,330.81 L497.85,329.21 L498.99,327.64 L500.13,326.1 L501.27,324.58 L502.41,323.09 L503.56,321.64 L504.7,320.22 L505.84,318.82 L506.98,317.46 L508.12,316.12 L509.26,314.81 L510.41,313.52 L511.55,312.25 L512.69,310.99 L513.83,309.76 L514.97,308.53 L516.11,307.33 L517.26,306.13 L518.4,304.96 L519.54,303.8 L520.68,302.66 L521.82,301.54 L522.96,300.45 L524.1,299.39 L525.25,298.35 L526.39,297.34 L527.53,296.37 L528.67,295.42 L529.81,294.51 L530.95,293.64 L532.1,292.79 L533.24,291.98 L534.38,291.19 L535.52,290.44 L536.66,289.71 L537.8,289.01 L538.95,288.34 L540.09,287.69 L541.23,287.07 L542.37,286.46 L543.51,285.89" fill="none" stroke="#62d4ac" stroke-width="1.2" stroke-linejoin="round" stroke-linecap="round"/>
<path d="M320.9,381.5 L322.04,381.72 L323.18,381.92 L324.32,382.1 L325.47,382.25 L326.61,382.34 L327.75,382.4 L328.89,382.46 L330.03,382.51 L331.17,382.56 L332.32,382.6 L333.46,382.63 L334.6,382.66 L335.74,382.68 L336.88,382.7 L338.02,382.7 L339.17,382.69 L340.31,382.68 L341.45,382.67 L342.59,382.67 L343.73,382.66 L344.87,382.65 L346.02,382.65 L347.16,382.65 L348.3,382.65 L349.44,382.66 L350.58,382.67 L351.72,382.68 L352.86,382.7 L354.01,382.72 L355.15,382.75 L356.29,382.78 L357.43,382.82 L358.57,382.86 L359.71,382.92 L360.86,382.97 L362,383.03 L363.14,383.09 L364.28,383.15 L365.42,383.21 L366.56,383.26 L367.71,383.32 L368.85,383.37 L369.99,383.41 L371.13,383.44 L372.27,383.47 L373.41,383.5 L374.56,383.51 L375.7,383.52 L376.84,383.52 L377.98,383.52 L379.12,383.51 L380.26,383.49 L381.4,383.47 L382.55,383.45 L383.69,383.42 L384.83,383.39 L385.97,383.36 L387.11,383.32 L388.25,383.28 L389.4,383.24 L390.54,383.19 L391.68,383.15 L392.82,383.1 L393.96,383.05 L395.1,383 L396.25,382.95 L397.39,382.9 L398.53,382.85 L399.67,382.8 L400.81,382.76 L401.95,382.71 L403.1,382.67 L404.24,382.63 L405.38,382.59 L406.52,382.55 L407.66,382.51 L408.8,382.48 L409.94,382.44 L411.09,382.4 L412.23,382.37 L413.37,382.33 L414.51,382.3 L415.65,382.26 L416.79,382.23 L417.94,382.19 L419.08,382.15 L420.22,382.11 L421.36,382.07 L422.5,382.02 L423.64,381.98 L424.79,381.93 L425.93,381.88 L427.07,381.82 L428.21,381.76 L429.35,381.7 L430.49,381.62 L431.64,381.54 L432.78,381.45 L433.92,381.34 L435.06,381.2 L436.2,381.04 L437.34,380.85 L438.48,380.61 L439.63,380.32 L440.77,379.96 L441.91,379.53 L443.05,379.01 L444.19,378.37 L445.33,377.62 L446.48,376.73 L447.62,375.7 L448.76,374.5 L449.9,373.14 L451.04,371.6 L452.18,369.89 L453.33,368 L454.47,365.94 L455.61,363.71 L456.75,361.33 L457.89,358.81 L459.03,356.16 L460.18,353.4 L461.32,350.54 L462.46,347.62 L463.6,344.64 L464.74,341.62 L465.88,338.59 L467.02,335.57 L468.17,332.57 L469.31,329.6 L470.45,326.69 L471.59,323.82 L472.73,321.02 L473.87,318.28 L475.02,315.6 L476.16,312.98 L477.3,310.43 L478.44,307.94 L479.58,305.5 L480.72,303.12 L481.87,300.8 L483.01,298.55 L484.15,296.36 L485.29,294.24 L486.43,292.19 L487.57,290.21 L488.72,288.31 L489.86,286.48 L491,284.73 L492.14,283.04 L493.28,281.42 L494.42,279.85 L495.56,278.35 L496.71,276.89 L497.85,275.47 L498.99,274.1 L500.13,272.77 L501.27,271.47 L502.41,270.21 L503.56,268.98 L504.7,267.79 L505.84,266.63 L506.98,265.52 L508.12,264.44 L509.26,263.4 L510.41,262.4 L511.55,261.43 L512.69,260.51 L513.83,259.62 L514.97,258.77 L516.11,257.96 L517.26,257.18 L518.4,256.43 L519.54,255.72 L520.68,255.03 L521.82,254.36 L522.96,253.72 L524.1,253.1 L525.25,252.49 L526.39,251.9 L527.53,251.32 L528.67,250.75 L529.81,250.2 L530.95,249.65 L532.1,249.1 L533.24,248.57 L534.38,248.04 L535.52,247.52 L536.66,247.02 L537.8,246.53 L538.95,246.06 L540.09,245.61 L541.23,245.18 L542.37,244.78 L543.51,244.4" fill="none" stroke="#acdb84" stroke-width="1.2" stroke-linejoin="round" stroke-linecap="round"/>
<path d="M320.9,381.5 L322.04,381.72 L323.18,381.92 L324.32,382.1 L325.47,382.25 L326.61,382.34 L327.75,382.4 L328.89,382.46 L330.03,382.51 L331.17,382.56 L332.32,382.6 L333.46,382.63 L334.6,382.66 L335.74,382.68 L336.88,382.7 L338.02,382.7 L339.17,382.69 L340.31,382.68 L341.45,382.67 L342.59,382.67 L343.73,382.66 L344.87,382.65 L346.02,382.65 L347.16,382.65 L348.3,382.65 L349.44,382.66 L350.58,382.67 L351.72,382.68 L352.86,382.7 L354.01,382.72 L355.15,382.75 L356.29,382.78 L357.43,382.82 L358.57,382.86 L359.71,382.92 L360.86,382.97 L362,383.03 L363.14,383.09 L364.28,383.15 L365.42,383.21 L366.56,383.26 L367.71,383.32 L368.85,383.37 L369.99,383.41 L371.13,383.44 L372.27,383.47 L373.41,383.5 L374.56,383.51 L375.7,383.52 L376.84,383.52 L377.98,383.52 L379.12,383.51 L380.26,383.49 L381.4,383.47 L382.55,383.44 L383.69,383.41 L384.83,383.38 L385.97,383.34 L387.11,383.3 L388.25,383.25 L389.4,383.2 L390.54,383.15 L391.68,383.09 L392.82,383.04 L393.96,382.98 L395.1,382.93 L396.25,382.88 L397.39,382.83 L398.53,382.79 L399.67,382.76 L400.81,382.73 L401.95,382.71 L403.1,382.69 L404.24,382.68 L405.38,382.66 L406.52,382.65 L407.66,382.62 L408.8,382.58 L409.94,382.52 L411.09,382.42 L412.23,382.29 L413.37,382.1 L414.51,381.85 L415.65,381.52 L416.79,381.12 L417.94,380.62 L419.08,380.03 L420.22,379.33 L421.36,378.51 L422.5,377.57 L423.64,376.5 L424.79,375.31 L425.93,373.98 L427.07,372.51 L428.21,370.9 L429.35,369.16 L430.49,367.28 L431.64,365.26 L432.78,363.1 L433.92,360.82 L435.06,358.42 L436.2,355.91 L437.34,353.28 L438.48,350.57 L439.63,347.76 L440.77,344.89 L441.91,341.95 L443.05,338.97 L444.19,335.96 L445.33,332.92 L446.48,329.88 L447.62,326.84 L448.76,323.82 L449.9,320.84 L451.04,317.89 L452.18,315 L453.33,312.17 L454.47,309.4 L455.61,306.71 L456.75,304.1 L457.89,301.56 L459.03,299.11 L460.18,296.73 L461.32,294.44 L462.46,292.23 L463.6,290.1 L464.74,288.04 L465.88,286.06 L467.02,284.16 L468.17,282.33 L469.31,280.57 L470.45,278.88 L471.59,277.26 L472.73,275.7 L473.87,274.21 L475.02,272.77 L476.16,271.38 L477.3,270.04 L478.44,268.75 L479.58,267.5 L480.72,266.28 L481.87,265.1 L483.01,263.96 L484.15,262.84 L485.29,261.76 L486.43,260.71 L487.57,259.69 L488.72,258.7 L489.86,257.75 L491,256.83 L492.14,255.95 L493.28,255.11 L494.42,254.3 L495.56,253.53 L496.71,252.79 L497.85,252.1 L498.99,251.44 L500.13,250.82 L501.27,250.24 L502.41,249.7 L503.56,249.2 L504.7,248.73 L505.84,248.29 L506.98,247.89 L508.12,247.51 L509.26,247.15 L510.41,246.81 L511.55,246.49 L512.69,246.18 L513.83,245.88 L514.97,245.6 L516.11,245.31 L517.26,245.04 L518.4,244.76 L519.54,244.49 L520.68,244.22 L521.82,243.95 L522.96,243.68 L524.1,243.41 L525.25,243.14 L526.39,242.87 L527.53,242.6 L528.67,242.34 L529.81,242.08 L530.95,241.83 L532.1,241.59 L533.24,241.36 L534.38,241.15 L535.52,240.95 L536.66,240.76 L537.8,240.59 L538.95,240.43 L540.09,240.29 L541.23,240.17 L542.37,240.05 L543.51,239.95" fill="none" stroke="#e4d98a" stroke-width="1.2" stroke-linejoin="round" stroke-linecap="round"/>
<path d="M320.9,381.5 L322.04,381.72 L323.18,381.92 L324.32,382.1 L325.47,382.25 L326.61,382.34 L327.75,382.4 L328.89,382.46 L330.03,382.51 L331.17,382.56 L332.32,382.6 L333.46,382.63 L334.6,382.66 L335.74,382.68 L336.88,382.7 L338.02,382.7 L339.17,382.69 L340.31,382.68 L341.45,382.67 L342.59,382.67 L343.73,382.66 L344.87,382.65 L346.02,382.65 L347.16,382.65 L348.3,382.65 L349.44,382.66 L350.58,382.67 L351.72,382.68 L352.86,382.7 L354.01,382.72 L355.15,382.75 L356.29,382.78 L357.43,382.82 L358.57,382.87 L359.71,382.92 L360.86,382.97 L362,383.03 L363.14,383.09 L364.28,383.15 L365.42,383.21 L366.56,383.26 L367.71,383.32 L368.85,383.37 L369.99,383.41 L371.13,383.45 L372.27,383.48 L373.41,383.5 L374.56,383.52 L375.7,383.53 L376.84,383.53 L377.98,383.53 L379.12,383.52 L380.26,383.5 L381.4,383.48 L382.55,383.46 L383.69,383.43 L384.83,383.4 L385.97,383.37 L387.11,383.33 L388.25,383.29 L389.4,383.24 L390.54,383.2 L391.68,383.15 L392.82,383.1 L393.96,383.04 L395.1,382.97 L396.25,382.9 L397.39,382.81 L398.53,382.7 L399.67,382.58 L400.81,382.41 L401.95,382.21 L403.1,381.96 L404.24,381.65 L405.38,381.27 L406.52,380.8 L407.66,380.24 L408.8,379.56 L409.94,378.75 L411.09,377.8 L412.23,376.7 L413.37,375.44 L414.51,374 L415.65,372.37 L416.79,370.55 L417.94,368.54 L419.08,366.34 L420.22,363.95 L421.36,361.37 L422.5,358.63 L423.64,355.72 L424.79,352.67 L425.93,349.49 L427.07,346.21 L428.21,342.84 L429.35,339.39 L430.49,335.9 L431.64,332.38 L432.78,328.84 L433.92,325.3 L435.06,321.77 L436.2,318.26 L437.34,314.79 L438.48,311.35 L439.63,307.95 L440.77,304.6 L441.91,301.3 L443.05,298.06 L444.19,294.89 L445.33,291.79 L446.48,288.78 L447.62,285.85 L448.76,283.02 L449.9,280.3 L451.04,277.7 L452.18,275.2 L453.33,272.83 L454.47,270.58 L455.61,268.44 L456.75,266.41 L457.89,264.5 L459.03,262.68 L460.18,260.97 L461.32,259.34 L462.46,257.79 L463.6,256.32 L464.74,254.93 L465.88,253.6 L467.02,252.33 L468.17,251.11 L469.31,249.95 L470.45,248.83 L471.59,247.75 L472.73,246.71 L473.87,245.7 L475.02,244.72 L476.16,243.77 L477.3,242.84 L478.44,241.94 L479.58,241.06 L480.72,240.2 L481.87,239.37 L483.01,238.56 L484.15,237.77 L485.29,237 L486.43,236.25 L487.57,235.53 L488.72,234.82 L489.86,234.13 L491,233.46 L492.14,232.8 L493.28,232.15 L494.42,231.51 L495.56,230.88 L496.71,230.26 L497.85,229.64 L498.99,229.03 L500.13,228.43 L501.27,227.84 L502.41,227.26 L503.56,226.69 L504.7,226.14 L505.84,225.6 L506.98,225.08 L508.12,224.59 L509.26,224.11 L510.41,223.65 L511.55,223.22 L512.69,222.8 L513.83,222.4 L514.97,222.01 L516.11,221.63 L517.26,221.27 L518.4,220.91 L519.54,220.56 L520.68,220.2 L521.82,219.85 L522.96,219.5 L524.1,219.15 L525.25,218.8 L526.39,218.45 L527.53,218.11 L528.67,217.77 L529.81,217.44 L530.95,217.12 L532.1,216.82 L533.24,216.53 L534.38,216.26 L535.52,216.02 L536.66,215.79 L537.8,215.59 L538.95,215.41 L540.09,215.25 L541.23,215.11 L542.37,214.99 L543.51,214.89" fill="none" stroke="#da8078" stroke-width="1.2" stroke-linejoin="round" stroke-linecap="round"/>
<line x1="320.9" y1="369.04" x2="543.51" y2="369.04" stroke="#4ba6e0" stroke-width="1.3" />
<text x="321.2" y="369.0" font-family="Liberation Serif" font-size="7.6" font-weight="bold" fill="#cc2020" textLength="46.2" lengthAdjust="spacingAndGlyphs">11,413.135955</text>
<text x="274.6" y="225.7" font-family="Liberation Sans" font-size="17.9" fill="#000" font-weight="bold" >d</text>
<text x="0" y="0" font-family="Liberation Sans" font-size="16.5" font-weight="bold" fill="#000" textLength="31.5" lengthAdjust="spacingAndGlyphs" transform="translate(293.4,315.7) rotate(-90)">ΔRn</text>
<text x="411.4" y="415.4" font-family="Liberation Sans" font-size="12.8" fill="#000" font-weight="bold" textLength="30.0" lengthAdjust="spacingAndGlyphs" >Cycle</text>
</svg></body></html>
